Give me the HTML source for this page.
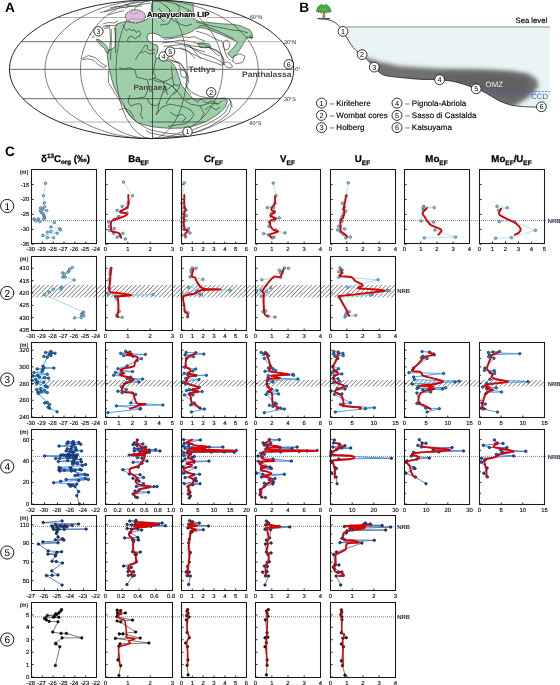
<!DOCTYPE html><html><head><meta charset="utf-8"><title>Figure</title><style>html,body{margin:0;padding:0;background:#fff;}svg{display:block;} text{text-rendering:geometricPrecision;}</style></head><body>
<svg width="560" height="685" viewBox="0 0 560 685">
<rect width="560" height="685" fill="#fff"/>
<g id="panelA">
<text x="5" y="11.8" font-size="13.6" font-weight="bold" font-family="'Liberation Sans', Arial, sans-serif">A</text>
<defs><clipPath id="ellc"><ellipse cx="151.6" cy="69.3" rx="142.2" ry="69.3"/></clipPath></defs>
<g clip-path="url(#ellc)">
<path d="M115.2,33.0 L114.5,28.0 L118.0,23.5 L125.0,21.5 L135.0,22.5 L143.0,21.0 L146.5,19.5 L149.5,16.5 L151.0,12.0 L151.5,5.0 L152.5,1.5 L157.0,1.2 L170.0,0.4 L185.0,0.7 L193.0,1.5 L193.6,19.0 L200.0,21.7 L208.0,22.4 L220.1,23.7 L233.5,24.4 L240.2,25.7 L246.2,28.4 L249.6,29.7 L251.6,32.4 L252.9,37.8 L246.9,37.1 L242.9,44.5 L238.8,51.2 L235.5,55.2 L232.1,57.9 L227.5,53.8 L231.5,49.8 L235.5,45.1 L237.5,41.8 L230.0,38.5 L220.0,34.0 L210.7,30.4 L205.4,28.4 L200.0,27.7 L195.0,29.0 L192.0,31.5 L186.0,34.0 L180.0,35.5 L172.0,37.5 L163.0,37.8 L158.0,34.5 L152.5,33.0 L148.0,34.0 L147.0,38.0 L149.0,42.0 L153.0,44.0 L157.0,45.0 L158.0,48.0 L157.0,53.0 L155.0,57.0 L160.0,59.0 L166.0,60.2 L170.5,61.5 L173.5,64.5 L175.8,68.0 L177.2,72.0 L178.6,75.7 L179.8,80.0 L181.0,84.0 L183.5,87.5 L186.0,91.0 L189.0,94.5 L193.5,99.2 L200.0,98.8 L210.0,98.6 L220.0,98.4 L226.0,99.0 L227.5,101.0 L225.0,107.5 L220.0,112.5 L215.0,116.3 L208.0,120.5 L200.0,124.0 L190.0,127.0 L182.5,128.0 L172.0,128.3 L165.0,128.0 L157.0,127.3 L150.0,126.3 L143.0,124.5 L137.5,122.5 L133.0,119.0 L129.5,115.5 L126.0,110.0 L123.5,104.0 L120.4,98.5 L117.1,93.1 L113.7,86.0 L111.5,78.4 L110.0,72.0 L108.6,66.0 L107.8,60.0 L107.1,53.0 L108.0,50.5 L112.0,49.0 L115.0,46.8 L115.2,40.0Z" fill="#9dd0a8" stroke="#1e2a22" stroke-width="0.6"/>
<path d="M96.4,39.4 L99.0,39.6 L103.0,42.5 L106.5,46.0 L108.5,50.0 L108.3,53.5 L106.0,52.0 L104.5,48.5 L101.0,45.5 L97.5,41.5Z" fill="#9dd0a8" stroke="#1e2a22" stroke-width="0.6"/>
<path d="M197.6,43.4 L203.0,42.8 L209.0,44.0 L211.0,46.5 L207.0,47.8 L200.0,47.5Z" fill="#9dd0a8" stroke="#1e2a22" stroke-width="0.6"/>
<path d="M82.4,58.8 L88.4,55.5 L95.1,57.5 L101.1,62.9 L106.5,66.2 L103.8,67.5 L98.4,64.9 L93.7,60.2 L87.7,58.8 L83.0,59.5Z" fill="#fff" stroke="#1e2a22" stroke-width="0.6"/>
<path d="M180.0,69.7 L184.0,70.5 L186.5,74.0 L185.5,77.8 L182.0,77.0 L180.5,73.5Z" fill="#fff" stroke="#1e2a22" stroke-width="0.6"/>
<path d="M108.4,70.0 L108.4,82.4 L112.4,89.1 L119.1,99.8 L125.8,109.2 L129.8,115.0 L136.0,121.0 L143.0,126.0 L150.0,129.9 L165.2,133.0 L180.4,134.5 L195.5,132.2 L210.7,126.1 L221.3,119.3 L228.9,113.2 L232.0,104.1 L229.0,99.0 L224.3,97.9 M146.0,130.5 L150.0,133.0 L165.2,136.0 L183.4,136.7 L190.0,135.5 M192.5,129.9 L207.7,123.8 L218.3,117.8 L225.9,111.7 L228.9,104.1 M229.0,99.0 L231.0,101.0 L230.0,104.0 L232.5,107.0 M166.0,58.0 L173.4,61.7 L180.1,63.0 L184.1,68.4 L186.8,75.1 L188.8,81.8 L186.8,85.8 L188.1,88.5 L192.1,92.5 L200.2,96.5 L208.2,97.9 L217.6,98.5 L224.3,97.9 M109.8,28.0 L110.5,40.0 L109.5,50.0 L107.5,52.0 M105.0,27.0 L109.0,25.5 L115.0,25.5 L118.0,23.5 M104.0,28.5 L110.0,27.5 M163.9,39.3 L172.9,38.4 L181.8,36.6 L188.9,37.5 L194.3,36.6 L197.9,38.4 L205.0,41.1 M162.1,42.9 L171.1,42.0 L180.0,40.2 L187.1,41.1 L192.5,42.0 L199.6,43.8 L205.0,44.2 M163.9,46.4 L172.9,45.5 L181.8,44.6 L187.1,46.4 L192.5,48.2 L197.9,50.0 L205.0,51.8 M188.9,44.6 L193.4,50.0 L197.0,54.5 L201.4,58.9 M172.9,48.2 L180.0,48.7 L186.3,50.0 L190.7,53.6 L195.2,58.9 M169.5,53.5 L174.8,60.2 L178.8,64.2 L181.5,70.0 M186.3,43.8 L195.0,50.0 L202.5,53.8 L210.0,56.3 L216.3,58.8 L221.3,61.9 L223.8,65.0 M180.0,47.5 L190.0,52.5 L200.0,57.5 L208.8,60.6 L216.3,63.1 L222.5,65.6 M175.0,42.5 L182.5,43.8 L190.0,45.6 L200.0,46.9 L208.8,47.5 L216.3,50.0 L221.3,53.8 L223.1,58.8 L223.8,65.0 M205.0,45.0 L212.5,48.8 L218.8,52.5 L222.5,56.3 L224.4,61.3 M208.8,47.5 L213.0,51.0 L217.0,54.5 L220.0,56.0 M223.8,62.5 L227.5,61.9 L231.3,64.4 L232.5,66.9 L230.0,68.1 L226.3,66.9 L224.4,65.0 L223.8,62.5 M233.8,56.3 L240.0,53.8 L245.0,56.3 L242.5,62.5 L236.3,63.8 L232.5,61.3 L233.8,56.3 M223.8,41.3 L227.5,40.0 L230.0,43.8 L228.8,48.8 L225.0,50.0 L223.1,46.3 L223.8,41.3 M221.0,40.0 L223.4,45.0 L225.0,52.0 L227.0,57.0 L230.0,60.0 M196.0,31.0 L206.0,34.0 L214.0,38.0 L220.0,41.0 M247.0,37.5 L252.0,38.5 L250.0,35.0 M198.0,27.0 L201.0,25.5 L205.0,26.0 M100.0,13.0 L112.0,8.5 L125.0,5.0 L138.0,2.5 L150.0,1.0 M104.0,12.0 L115.0,9.0 L128.0,6.5 L140.0,4.5 L151.0,3.0 M108.0,15.0 L118.0,12.0 L124.0,10.5 M103.0,24.0 L108.0,22.5 L114.0,23.0 L118.0,21.0 M102.5,27.0 L106.0,25.5 L110.0,26.5 M122.9,24.5 L124.2,28.0 L126.4,30.7 L129.1,28.9 L131.8,30.7 L134.5,29.8 L136.3,32.5 L138.9,30.7 L140.7,33.4 L139.8,36.1 L137.1,37.0 L135.4,38.8 L131.8,36.1 L129.1,37.0 L127.3,40.5 L129.1,42.3 M135.4,60.0 L138.9,53.9 L142.5,49.5 L145.2,45.0 L147.9,45.9 L147.0,48.6 L149.6,50.4 L155.0,49.5 M140.7,53.0 L145.2,51.3 L149.6,53.9 L155.0,53.0 M111.3,29.0 L111.3,40.0 L111.0,50.0 L110.4,60.0 M115.7,28.0 L115.7,40.0 L115.5,53.0 M170.5,59.5 L174.1,61.3 L178.6,62.1 L181.3,64.8 L183.9,68.4 L185.7,71.1 L187.5,73.8 L188.4,77.3 L187.5,80.9 L185.7,83.6 L186.6,87.1 L188.4,90.7 L191.1,94.3 M156.3,57.7 L154.5,65.7 L153.6,72.9 L155.4,76.4 L153.6,79.1 M171.4,65.7 L171.9,71.1 L172.3,76.4 L173.2,81.8 L174.1,85.4 M153.6,80.0 L158.9,81.8 L163.4,81.8 L167.9,80.0 L172.3,77.3 M163.4,81.8 L164.3,86.3 L166.1,90.7 L167.9,95.0 M174.1,85.4 L170.5,87.1 L167.0,89.8 L163.4,92.5 M173.2,84.5 L176.8,85.4 L180.4,84.5 M179.5,85.4 L178.6,88.9 L175.9,92.5 L173.2,95.0 M119.0,110.0 L124.0,108.0 L130.0,111.0 L134.0,117.0 M130.0,95.0 L128.0,102.0 L131.0,106.0 L136.0,104.0 L140.0,103.8 M147.0,98.0 L150.0,104.0 L156.0,106.0 L160.0,103.0 M186.0,100.0 L192.0,98.0 L197.0,102.0 L201.0,99.0 L206.0,103.0 L212.0,101.0 L218.0,104.0 L222.0,101.0 M205.0,110.0 L210.0,106.0 L216.0,110.0 L220.0,107.0 M170.0,112.0 L176.0,116.0 L182.0,114.0 L186.0,118.0 L182.0,122.0 M176.0,4.0 L180.0,8.0 L178.0,12.0 L184.0,14.0 L190.0,10.0 M158.0,8.0 L162.0,12.0 L160.0,18.0 L164.0,22.0 M196.0,22.0 L204.0,24.0 L212.0,26.0 L222.0,28.0 L232.0,30.0 L242.0,31.0 L248.0,33.0 M204.0,25.0 L210.0,28.0 L218.0,31.0 L226.0,35.0 L234.0,39.0 M119.1,67.7 L124.5,69.0 L129.8,67.7 L135.2,70.4 L136.5,77.1 L141.9,78.4 L147.2,79.7 L148.6,85.1 L147.2,91.8 L144.6,97.1 L135.2,98.5 L127.1,98.5 M148.6,79.7 L155.3,78.4 L162.0,81.1 L167.3,83.8 L172.0,86.0 L176.0,90.0 M164.6,86.4 L162.0,94.5 L159.3,102.5 L158.0,110.5 L156.0,114.7 M140.5,103.8 L141.9,109.2 L140.5,115.0 L143.0,119.0 M156.0,114.7 L162.1,107.1 L169.7,104.1 L177.3,105.6 L184.9,107.1 L191.0,110.2 L194.0,114.7 L191.0,119.3 L184.9,123.8 L176.0,125.0 L168.0,126.5 M172.0,86.0 L178.0,92.0 L183.0,99.0 L190.0,104.0 L200.0,106.0 L210.0,103.0 L218.0,104.0 M176.0,90.0 L170.0,97.0 L166.0,104.0 M200.0,106.0 L204.0,113.0 L201.0,119.0 M160.0,25.0 L168.0,24.0 L172.0,18.0 L178.0,14.0 L186.0,16.0 L192.0,12.0 M165.0,5.0 L170.0,10.0 L168.0,16.0 L173.0,20.0 L180.0,24.0 L186.0,26.0 L192.0,24.0 M125.0,5.0 L133.0,6.5 L142.0,6.0 M110.0,8.0 L118.0,6.0 L126.0,8.0 L130.0,6.0" fill="none" stroke="#1e2a22" stroke-width="0.6" stroke-linejoin="round"/>
<ellipse cx="95.5" cy="32.6" rx="1.3" ry="0.9" fill="#fff" stroke="#333" stroke-width="0.45"/>
<ellipse cx="93.3" cy="36.8" rx="1.0" ry="0.8" fill="#fff" stroke="#333" stroke-width="0.45"/>
<ellipse cx="90.5" cy="34.4" rx="0.8" ry="0.6" fill="#fff" stroke="#333" stroke-width="0.45"/>
</g>
<path d="M9.4,69.3H293.8 M22.8,98.7H280.4 M21.2,41.7H175 M150,122H205" stroke="#3a3a3a" stroke-width="0.75" fill="none"/>
<path d="M57.1,17.5H246.1 M175,41.7H282.0 M59.3,122H150 M205,122H243.9" stroke="#999" stroke-width="0.75" fill="none"/>
<ellipse cx="151.6" cy="69.3" rx="35.55" ry="69.3" fill="none" stroke="#3a3a3a" stroke-width="0.65"/>
<ellipse cx="151.6" cy="69.3" rx="71.10" ry="69.3" fill="none" stroke="#3a3a3a" stroke-width="0.65"/>
<ellipse cx="151.6" cy="69.3" rx="106.65" ry="69.3" fill="none" stroke="#3a3a3a" stroke-width="0.65"/>
<line x1="152.5" y1="0" x2="152.5" y2="138.6" stroke="#2a2a2a" stroke-width="0.75"/>
<ellipse cx="151.6" cy="69.3" rx="142.2" ry="69.3" fill="none" stroke="#1a1a1a" stroke-width="0.95"/>
<ellipse cx="135.4" cy="16.4" rx="10" ry="6.6" fill="#dbbbd9" stroke="#222" stroke-width="0.85" stroke-dasharray="1.8,0.9"/>
<path d="M127,21 Q131,17 136,19 Q140,21 144,18 M129,12 Q133,15 138,13" stroke="#8a6a88" stroke-width="0.4" fill="none"/>
<g font-family="'Liberation Sans', Arial, sans-serif" font-size="5.4" fill="#111"><text x="250" y="19.4">60°N</text><text x="284" y="43.6">30°N</text><text x="295.3" y="71.3">0°</text><text x="284" y="100.7">30°S</text><text x="249.6" y="125">60°S</text></g>
<g font-family="'Liberation Sans', Arial, sans-serif" font-weight="bold" font-size="8" fill="#4a4549">
<text x="188.6" y="72.2" textLength="26.8" lengthAdjust="spacingAndGlyphs">Tethys</text><text x="242.1" y="77.2" textLength="49.3" lengthAdjust="spacingAndGlyphs">Panthalassa</text></g>
<text x="133.4" y="89.9" textLength="33.5" lengthAdjust="spacingAndGlyphs" font-family="'Liberation Sans', Arial, sans-serif" font-weight="bold" font-size="7.8" fill="#4a4549">Pangaea</text>
<text x="146.9" y="17.2" textLength="62.4" lengthAdjust="spacingAndGlyphs" font-family="'Liberation Sans', Arial, sans-serif" font-weight="bold" font-size="7.4" fill="#fff" stroke="#fff" stroke-width="1.8" stroke-linejoin="round">Angayucham LIP</text>
<text x="146.9" y="17.2" textLength="62.4" lengthAdjust="spacingAndGlyphs" font-family="'Liberation Sans', Arial, sans-serif" font-weight="bold" font-size="7.4" fill="#000" stroke="#000" stroke-width="0.22">Angayucham LIP</text>
<circle cx="187.5" cy="131.6" r="4.7" fill="#fff" stroke="#111" stroke-width="0.85"/>
<text x="187.5" y="134.1" font-size="7" text-anchor="middle" font-family="'Liberation Sans', Arial, sans-serif">1</text>
<circle cx="211.2" cy="92.3" r="4.7" fill="#fff" stroke="#111" stroke-width="0.85"/>
<text x="211.2" y="94.8" font-size="7" text-anchor="middle" font-family="'Liberation Sans', Arial, sans-serif">2</text>
<circle cx="98.4" cy="31.3" r="4.7" fill="#fff" stroke="#111" stroke-width="0.85"/>
<text x="98.4" y="33.8" font-size="7" text-anchor="middle" font-family="'Liberation Sans', Arial, sans-serif">3</text>
<circle cx="163.6" cy="56.4" r="4.7" fill="#fff" stroke="#111" stroke-width="0.85"/>
<text x="163.6" y="58.9" font-size="7" text-anchor="middle" font-family="'Liberation Sans', Arial, sans-serif">4</text>
<circle cx="170.1" cy="51.6" r="4.7" fill="#fff" stroke="#111" stroke-width="0.85"/>
<text x="170.1" y="54.1" font-size="7" text-anchor="middle" font-family="'Liberation Sans', Arial, sans-serif">5</text>
<circle cx="288.8" cy="64.3" r="4.7" fill="#fff" stroke="#111" stroke-width="0.85"/>
<text x="288.8" y="66.8" font-size="7" text-anchor="middle" font-family="'Liberation Sans', Arial, sans-serif">6</text>
</g>
<g id="panelB">
<text x="299.3" y="11.8" font-size="13.6" font-weight="bold" font-family="'Liberation Sans', Arial, sans-serif">B</text>
<defs><clipPath id="wclip"><path d="M346.5,27.0 C380.4,27.0 515.9,13.6 549.8,27.0 C583.7,40.4 551.2,94.2 549.8,107.6 C548.4,121.0 543.9,107.7 541.4,107.6 C538.9,107.5 538.2,107.2 535.0,107.0 C531.8,106.8 525.8,106.8 522.0,106.5 C518.2,106.2 515.2,106.0 512.0,105.3 C508.8,104.6 505.8,103.6 503.0,102.5 C500.2,101.4 498.0,100.2 495.0,98.5 C492.0,96.8 488.1,94.1 485.0,92.5 C481.9,90.9 480.7,90.5 476.2,88.8 C471.7,87.1 464.1,84.0 458.0,82.5 C451.9,81.0 445.9,80.2 439.6,79.7 C433.3,79.2 426.6,79.7 420.0,79.3 C413.4,78.9 405.8,78.1 400.0,77.5 C394.2,76.9 388.5,76.4 385.0,75.5 C381.5,74.6 380.8,73.4 379.0,72.0 C377.2,70.6 376.1,69.0 374.3,67.1 C372.5,65.2 370.0,62.6 368.0,60.5 C366.0,58.4 364.1,56.3 362.1,54.6 C360.1,52.9 357.9,52.2 356.0,50.5 C354.1,48.8 352.5,46.6 351.0,44.5 C349.5,42.4 348.0,39.7 347.0,38.0 C346.0,36.3 345.3,35.1 345.0,34.5Z"/></clipPath><filter id="blur" x="-20%" y="-50%" width="140%" height="200%"><feGaussianBlur stdDeviation="2.3"/></filter><filter id="blur2" x="-20%" y="-50%" width="140%" height="200%"><feGaussianBlur stdDeviation="3.2"/></filter></defs>
<path d="M346.5,27.0 L549.8,27.0 L549.8,107.6 L541.4,107.6 L535.0,107.0 L522.0,106.5 L512.0,105.3 L503.0,102.5 L495.0,98.5 L485.0,92.5 L476.2,88.8 L458.0,82.5 L439.6,79.7 L420.0,79.3 L400.0,77.5 L385.0,75.5 L379.0,72.0 L374.3,67.1 L368.0,60.5 L362.1,54.6 L356.0,50.5 L351.0,44.5 L347.0,38.0 L345.0,34.5Z" fill="#e9f4f7"/>
<g clip-path="url(#wclip)"><path d="M362.0,56.5 L380.0,62.0 L400.0,66.2 L440.0,68.8 L480.0,69.5 L510.0,71.0 L528.0,73.5 L537.0,79.5 L538.5,86.0 L533.0,94.0 L522.0,101.5 L512.0,108.0 L490.0,104.0 L460.0,95.0 L430.0,88.0 L400.0,85.0 L370.0,80.0 L358.0,66.0Z" fill="#6f6f6f" filter="url(#blur)"/><path d="M440.0,74.0 L470.0,73.0 L495.0,73.0 L515.0,75.0 L528.0,79.5 L530.0,87.5 L522.0,95.5 L510.0,99.0 L495.0,95.0 L478.0,89.0 L455.0,82.0 L440.0,80.0Z" fill="#616161" filter="url(#blur2)"/></g>
<line x1="346.5" y1="27" x2="549.8" y2="27" stroke="#8a8a8a" stroke-width="1"/>
<path d="M318.0,18.6 C320.0,18.9 326.8,19.2 330.0,20.2 C333.2,21.2 335.3,22.6 337.5,24.5 C339.7,26.4 341.4,29.1 343.0,31.4 C344.6,33.6 345.7,35.8 347.0,38.0 C348.3,40.2 349.5,42.4 351.0,44.5 C352.5,46.6 354.1,48.8 356.0,50.5 C357.9,52.2 360.1,52.9 362.1,54.6 C364.1,56.3 366.0,58.4 368.0,60.5 C370.0,62.6 372.5,65.2 374.3,67.1 C376.1,69.0 377.2,70.6 379.0,72.0 C380.8,73.4 381.5,74.6 385.0,75.5 C388.5,76.4 394.2,76.9 400.0,77.5 C405.8,78.1 413.4,78.9 420.0,79.3 C426.6,79.7 433.3,79.2 439.6,79.7 C445.9,80.2 451.9,81.0 458.0,82.5 C464.1,84.0 471.7,87.1 476.2,88.8 C480.7,90.5 481.9,90.9 485.0,92.5 C488.1,94.1 492.0,96.8 495.0,98.5 C498.0,100.2 500.2,101.4 503.0,102.5 C505.8,103.6 508.8,104.6 512.0,105.3 C515.2,106.0 518.2,106.2 522.0,106.5 C525.8,106.8 531.8,107.0 535.0,107.0 C538.2,107.0 540.3,106.8 541.4,106.8" fill="none" stroke="#222" stroke-width="0.8"/>
<line x1="482" y1="91.6" x2="550" y2="91.6" stroke="#3b63d0" stroke-width="0.8" stroke-dasharray="2.2,1.3"/>
<text x="531.2" y="99.4" font-size="7.75" fill="#3b63d0" font-family="'Liberation Sans', Arial, sans-serif">CCD</text>
<text x="485.6" y="86.8" font-size="7.8" fill="#f4f4f4" font-family="'Liberation Sans', Arial, sans-serif">OMZ</text>
<text x="515.5" y="23" font-size="7.7" fill="#000" stroke="#000" stroke-width="0.15" font-family="'Liberation Sans', Arial, sans-serif">Sea level</text>
<circle cx="343.0" cy="31.4" r="4.9" fill="#fff" stroke="#111" stroke-width="0.85"/>
<text x="343.0" y="34.0" font-size="7.2" text-anchor="middle" font-family="'Liberation Sans', Arial, sans-serif">1</text>
<circle cx="362.1" cy="54.6" r="4.9" fill="#fff" stroke="#111" stroke-width="0.85"/>
<text x="362.1" y="57.2" font-size="7.2" text-anchor="middle" font-family="'Liberation Sans', Arial, sans-serif">2</text>
<circle cx="374.3" cy="67.1" r="4.9" fill="#fff" stroke="#111" stroke-width="0.85"/>
<text x="374.3" y="69.7" font-size="7.2" text-anchor="middle" font-family="'Liberation Sans', Arial, sans-serif">3</text>
<circle cx="439.6" cy="79.7" r="4.9" fill="#fff" stroke="#111" stroke-width="0.85"/>
<text x="439.6" y="82.3" font-size="7.2" text-anchor="middle" font-family="'Liberation Sans', Arial, sans-serif">4</text>
<circle cx="476.2" cy="88.8" r="4.9" fill="#fff" stroke="#111" stroke-width="0.85"/>
<text x="476.2" y="91.4" font-size="7.2" text-anchor="middle" font-family="'Liberation Sans', Arial, sans-serif">5</text>
<circle cx="541.4" cy="106.8" r="4.9" fill="#fff" stroke="#111" stroke-width="0.85"/>
<text x="541.4" y="109.4" font-size="7.2" text-anchor="middle" font-family="'Liberation Sans', Arial, sans-serif">6</text>
<path d="M317.5,18.6 L330,18.6" stroke="#444" stroke-width="1.1" fill="none"/>
<path d="M322.6,18.6 L322.9,11.5 L324.9,11.5 L325.1,18.6 Z" fill="#c8965a" stroke="#6a4a24" stroke-width="0.35"/>
<path d="M316.4,12 Q316.8,6.5 321,4.5 L323.7,5.6 L326.4,4.5 Q330.6,6.5 331.2,12 L330,10.4 L329,12.8 L327.8,10.8 L326.6,13.2 L325.3,11.2 L323.8,13.2 L322.4,11.2 L321,13.2 L319.8,10.8 L318.7,12.8 L317.6,10.4 Z" fill="#4fb548" stroke="#1d4d1a" stroke-width="0.55" stroke-linejoin="round"/>
<path d="M318.5,9 L320.5,7.5 M321.5,8.5 L322.5,6.5 M326,8.5 L325,6.5 M329,9 L327,7.5" stroke="#2e7a2a" stroke-width="0.5"/>
<circle cx="321.5" cy="103.1" r="5" fill="#fff" stroke="#111" stroke-width="0.85"/>
<text x="321.5" y="105.7" font-size="7.4" text-anchor="middle" font-family="'Liberation Sans', Arial, sans-serif">1</text>
<text x="329.7" y="105.9" font-size="8" font-family="'Liberation Sans', Arial, sans-serif" fill="#000" stroke="#000" stroke-width="0.15">– Kiritehere</text>
<circle cx="321.5" cy="115.4" r="5" fill="#fff" stroke="#111" stroke-width="0.85"/>
<text x="321.5" y="118.0" font-size="7.4" text-anchor="middle" font-family="'Liberation Sans', Arial, sans-serif">2</text>
<text x="329.7" y="118.2" font-size="8" font-family="'Liberation Sans', Arial, sans-serif" fill="#000" stroke="#000" stroke-width="0.15">– Wombat cores</text>
<circle cx="321.5" cy="127.6" r="5" fill="#fff" stroke="#111" stroke-width="0.85"/>
<text x="321.5" y="130.2" font-size="7.4" text-anchor="middle" font-family="'Liberation Sans', Arial, sans-serif">3</text>
<text x="329.7" y="130.4" font-size="8" font-family="'Liberation Sans', Arial, sans-serif" fill="#000" stroke="#000" stroke-width="0.15">– Holberg</text>
<circle cx="397.0" cy="103.1" r="5" fill="#fff" stroke="#111" stroke-width="0.85"/>
<text x="397.0" y="105.7" font-size="7.4" text-anchor="middle" font-family="'Liberation Sans', Arial, sans-serif">4</text>
<text x="405.2" y="105.9" font-size="8" font-family="'Liberation Sans', Arial, sans-serif" fill="#000" stroke="#000" stroke-width="0.15">– Pignola-Abriola</text>
<circle cx="397.0" cy="115.4" r="5" fill="#fff" stroke="#111" stroke-width="0.85"/>
<text x="397.0" y="118.0" font-size="7.4" text-anchor="middle" font-family="'Liberation Sans', Arial, sans-serif">5</text>
<text x="405.2" y="118.2" font-size="8" font-family="'Liberation Sans', Arial, sans-serif" fill="#000" stroke="#000" stroke-width="0.15">– Sasso di Castalda</text>
<circle cx="397.0" cy="127.6" r="5" fill="#fff" stroke="#111" stroke-width="0.85"/>
<text x="397.0" y="130.2" font-size="7.4" text-anchor="middle" font-family="'Liberation Sans', Arial, sans-serif">6</text>
<text x="405.2" y="130.4" font-size="8" font-family="'Liberation Sans', Arial, sans-serif" fill="#000" stroke="#000" stroke-width="0.15">– Katsuyama</text>
</g>
<g id="panelC">
<text x="5" y="155.8" font-size="13.6" font-weight="bold" font-family="'Liberation Sans', Arial, sans-serif">C</text>
<g font-family="'Liberation Sans', Arial, sans-serif" font-weight="bold" font-size="9.7" text-anchor="middle" fill="#000" stroke="#000" stroke-width="0.25">
<text x="65.5" y="161.8">δ<tspan font-size="6.3" dy="-3.4">13</tspan><tspan dy="3.4">C</tspan><tspan font-size="6.3" dy="2.6">org</tspan><tspan dy="-2.6"> (‰)</tspan></text>
<text x="138.5" y="161.8">Ba<tspan font-size="6.5" dy="2.9">EF</tspan></text>
<text x="213.5" y="161.8">Cr<tspan font-size="6.5" dy="2.9">EF</tspan></text>
<text x="287.5" y="161.8">V<tspan font-size="6.5" dy="2.9">EF</tspan></text>
<text x="362.5" y="161.8">U<tspan font-size="6.5" dy="2.9">EF</tspan></text>
<text x="436.5" y="161.8">Mo<tspan font-size="6.5" dy="2.9">EF</tspan></text>
<text x="511.5" y="161.8">Mo<tspan font-size="6.5" dy="2.9">EF</tspan><tspan dy="-2.9">/U</tspan><tspan font-size="6.5" dy="2.9">EF</tspan></text>
</g>
<defs><pattern id="hatch" patternUnits="userSpaceOnUse" width="3.1" height="3.1" patternTransform="rotate(45)"><line x1="0" y1="0" x2="0" y2="3.1" stroke="#2a2a2a" stroke-width="0.95"/></pattern></defs>
<circle cx="7.2" cy="206.0" r="6.6" fill="#fff" stroke="#111" stroke-width="0.95"/>
<text x="7.2" y="209.6" font-size="10" text-anchor="middle" font-family="'Liberation Sans', Arial, sans-serif">1</text>
<line x1="31" y1="220.6" x2="547.0" y2="220.6" stroke="#555" stroke-width="0.7" stroke-dasharray="1,1"/>
<text x="547.8" y="223.4" font-size="5.9" font-weight="bold" fill="#2b3350" font-family="'Liberation Sans', Arial, sans-serif">NRB</text>
<g>
<path d="M45.5,183.2 L43.4,195.7 L44.3,202.9 L44.6,206.8 L40.7,207.9 L42.9,209.1 L46.8,210.5 L40.2,210.9 L41.4,212.7 L42.9,213.6 L43.8,215.4 L44.3,216.8 L44.6,218.0 L43.8,218.9 L38.4,218.9 L33.9,218.9 L35.7,220.7 L39.6,221.6 L54.5,222.5 L50.9,227.0 L59.8,228.8 L60.4,230.0 L50.9,231.4 L47.3,232.3 L57.1,233.2 L42.9,235.4 L53.6,237.7 L47.3,237.7" fill="none" stroke="#9fd6ee" stroke-width="0.70" stroke-linejoin="round"/>
<g fill="#84cbe8" stroke="#22374a" stroke-width="0.50"><circle cx="45.5" cy="183.2" r="1.30"/><circle cx="43.4" cy="195.7" r="1.30"/><circle cx="44.3" cy="202.9" r="1.30"/><circle cx="44.6" cy="206.8" r="1.30"/><circle cx="40.7" cy="207.9" r="1.30"/><circle cx="42.9" cy="209.1" r="1.30"/><circle cx="46.8" cy="210.5" r="1.30"/><circle cx="40.2" cy="210.9" r="1.30"/><circle cx="41.4" cy="212.7" r="1.30"/><circle cx="42.9" cy="213.6" r="1.30"/><circle cx="43.8" cy="215.4" r="1.30"/><circle cx="44.3" cy="216.8" r="1.30"/><circle cx="44.6" cy="218.0" r="1.30"/><circle cx="43.8" cy="218.9" r="1.30"/><circle cx="38.4" cy="218.9" r="1.30"/><circle cx="33.9" cy="218.9" r="1.30"/><circle cx="35.7" cy="220.7" r="1.30"/><circle cx="39.6" cy="221.6" r="1.30"/><circle cx="54.5" cy="222.5" r="1.30"/><circle cx="50.9" cy="227.0" r="1.30"/><circle cx="59.8" cy="228.8" r="1.30"/><circle cx="60.4" cy="230.0" r="1.30"/><circle cx="50.9" cy="231.4" r="1.30"/><circle cx="47.3" cy="232.3" r="1.30"/><circle cx="57.1" cy="233.2" r="1.30"/><circle cx="42.9" cy="235.4" r="1.30"/><circle cx="53.6" cy="237.7" r="1.30"/><circle cx="47.3" cy="237.7" r="1.30"/></g>
</g>
<rect x="31.5" y="169.5" width="65" height="74" fill="none" stroke="#1a1a1a" stroke-width="1.05"/>
<path d="M31.5,184.6h2.1 M31.5,199.5h2.1 M31.5,214.4h2.1 M31.5,229.4h2.1 M31.5,244.3h2.1 M42.3,243.5v-2.0 M53.2,243.5v-2.0 M64.0,243.5v-2.0 M74.8,243.5v-2.0 M85.7,243.5v-2.0" stroke="#1a1a1a" stroke-width="0.9" fill="none"/>
<g font-size="5.9" text-anchor="middle" fill="#000" stroke="#000" stroke-width="0.12" font-family="'Liberation Sans', Arial, sans-serif"><text x="30.7" y="251.2">-30</text><text x="41.5" y="251.2">-29</text><text x="52.4" y="251.2">-28</text><text x="63.2" y="251.2">-27</text><text x="74.0" y="251.2">-26</text><text x="84.9" y="251.2">-25</text><text x="95.7" y="251.2">-24</text></g>
<g>
<path d="M123.6,182.1 L132.6,195.7 L128.3,202.9 L122.1,206.4 L127.1,207.9 L117.1,210.4 L120.7,212.1 L127.1,212.9 L118.6,216.4 L117.9,217.9 L114.3,219.3 L108.6,222.1 L109.3,226.4 L114.3,228.6 L109.3,230.4 L113.6,233.3 L122.9,233.3 L120.0,235.7 L117.1,237.1 L125.4,238.9" fill="none" stroke="#9fd6ee" stroke-width="0.70" stroke-linejoin="round"/>
<g fill="#84cbe8" stroke="#22374a" stroke-width="0.50"><circle cx="123.6" cy="182.1" r="1.30"/><circle cx="132.6" cy="195.7" r="1.30"/><circle cx="128.3" cy="202.9" r="1.30"/><circle cx="122.1" cy="206.4" r="1.30"/><circle cx="127.1" cy="207.9" r="1.30"/><circle cx="117.1" cy="210.4" r="1.30"/><circle cx="120.7" cy="212.1" r="1.30"/><circle cx="127.1" cy="212.9" r="1.30"/><circle cx="118.6" cy="216.4" r="1.30"/><circle cx="117.9" cy="217.9" r="1.30"/><circle cx="114.3" cy="219.3" r="1.30"/><circle cx="108.6" cy="222.1" r="1.30"/><circle cx="109.3" cy="226.4" r="1.30"/><circle cx="114.3" cy="228.6" r="1.30"/><circle cx="109.3" cy="230.4" r="1.30"/><circle cx="113.6" cy="233.3" r="1.30"/><circle cx="122.9" cy="233.3" r="1.30"/><circle cx="120.0" cy="235.7" r="1.30"/><circle cx="117.1" cy="237.1" r="1.30"/><circle cx="125.4" cy="238.9" r="1.30"/></g>
<path d="M128.3,195.0 C128.2,196.9 129.1,203.8 127.9,206.4 C126.8,209.0 122.6,209.8 121.4,210.7 C120.2,211.6 119.8,211.5 120.7,212.1 C121.7,212.7 127.2,213.3 127.1,214.3 C127.0,215.3 122.2,217.0 120.0,217.9 C117.8,218.8 115.1,219.3 113.6,220.0 C112.1,220.7 111.5,220.8 111.1,222.1 C110.7,223.4 110.9,226.3 111.1,227.9 C111.3,229.5 110.8,230.6 112.1,231.4 C113.3,232.2 117.2,232.1 118.6,232.9 C120.0,233.7 120.3,235.6 120.7,236.4 C121.1,237.2 121.0,237.4 121.1,237.6" fill="none" stroke="#d80000" stroke-width="1.9" stroke-linejoin="round" stroke-linecap="round"/>
</g>
<rect x="105.5" y="169.5" width="67" height="74" fill="none" stroke="#1a1a1a" stroke-width="1.05"/>
<path d="M105.5,184.6h2.1 M105.5,199.5h2.1 M105.5,214.4h2.1 M105.5,229.4h2.1 M105.5,244.3h2.1 M127.8,243.5v-2.0 M150.2,243.5v-2.0" stroke="#1a1a1a" stroke-width="0.9" fill="none"/>
<g font-size="5.9" text-anchor="middle" fill="#000" stroke="#000" stroke-width="0.12" font-family="'Liberation Sans', Arial, sans-serif"><text x="105.5" y="251.2">0</text><text x="127.8" y="251.2">1</text><text x="150.2" y="251.2">2</text><text x="172.5" y="251.2">3</text></g>
<g>
<path d="M184.3,182.9 L181.9,203.3 L182.9,207.9 L186.1,210.0 L182.9,212.1 L186.4,215.7 L182.1,217.9 L185.3,220.4 L181.9,222.1 L182.1,226.4 L188.6,228.6 L184.3,229.6 L190.0,232.9 L182.1,235.0 L185.7,237.1" fill="none" stroke="#9fd6ee" stroke-width="0.70" stroke-linejoin="round"/>
<g fill="#84cbe8" stroke="#22374a" stroke-width="0.50"><circle cx="184.3" cy="182.9" r="1.30"/><circle cx="181.9" cy="203.3" r="1.30"/><circle cx="182.9" cy="207.9" r="1.30"/><circle cx="186.1" cy="210.0" r="1.30"/><circle cx="182.9" cy="212.1" r="1.30"/><circle cx="186.4" cy="215.7" r="1.30"/><circle cx="182.1" cy="217.9" r="1.30"/><circle cx="185.3" cy="220.4" r="1.30"/><circle cx="181.9" cy="222.1" r="1.30"/><circle cx="182.1" cy="226.4" r="1.30"/><circle cx="188.6" cy="228.6" r="1.30"/><circle cx="184.3" cy="229.6" r="1.30"/><circle cx="190.0" cy="232.9" r="1.30"/><circle cx="182.1" cy="235.0" r="1.30"/><circle cx="185.7" cy="237.1" r="1.30"/></g>
<path d="M184.3,195.0 C184.3,196.7 184.1,202.6 184.3,205.0 C184.5,207.4 185.3,207.9 185.3,209.3 C185.3,210.7 184.5,211.9 184.3,213.6 C184.1,215.3 184.0,217.4 183.9,219.3 C183.8,221.2 183.7,223.3 183.9,225.0 C184.1,226.7 184.3,228.4 185.0,229.3 C185.7,230.2 188.0,230.0 188.1,230.7 C188.2,231.4 185.8,232.8 185.3,233.6 C184.8,234.4 185.3,235.3 185.3,235.7" fill="none" stroke="#d80000" stroke-width="1.9" stroke-linejoin="round" stroke-linecap="round"/>
</g>
<rect x="181.5" y="169.5" width="65" height="74" fill="none" stroke="#1a1a1a" stroke-width="1.05"/>
<path d="M181.5,184.6h2.1 M181.5,199.5h2.1 M181.5,214.4h2.1 M181.5,229.4h2.1 M181.5,244.3h2.1 M192.3,243.5v-2.0 M203.2,243.5v-2.0 M214.0,243.5v-2.0 M224.8,243.5v-2.0 M235.7,243.5v-2.0" stroke="#1a1a1a" stroke-width="0.9" fill="none"/>
<g font-size="5.9" text-anchor="middle" fill="#000" stroke="#000" stroke-width="0.12" font-family="'Liberation Sans', Arial, sans-serif"><text x="181.5" y="251.2">0</text><text x="192.3" y="251.2">1</text><text x="203.2" y="251.2">2</text><text x="214.0" y="251.2">3</text><text x="224.8" y="251.2">4</text><text x="235.7" y="251.2">5</text><text x="246.5" y="251.2">6</text></g>
<g>
<path d="M273.3,183.1 L276.0,195.7 L275.0,203.3 L267.4,207.6 L273.6,207.6 L274.3,211.4 L271.4,213.6 L271.1,215.7 L279.3,217.9 L273.6,220.4 L269.3,222.1 L268.9,226.4 L275.7,230.0 L285.0,232.9 L263.6,233.6 L268.6,235.0 L274.0,237.1 L272.1,237.9" fill="none" stroke="#9fd6ee" stroke-width="0.70" stroke-linejoin="round"/>
<g fill="#84cbe8" stroke="#22374a" stroke-width="0.50"><circle cx="273.3" cy="183.1" r="1.30"/><circle cx="276.0" cy="195.7" r="1.30"/><circle cx="275.0" cy="203.3" r="1.30"/><circle cx="267.4" cy="207.6" r="1.30"/><circle cx="273.6" cy="207.6" r="1.30"/><circle cx="274.3" cy="211.4" r="1.30"/><circle cx="271.4" cy="213.6" r="1.30"/><circle cx="271.1" cy="215.7" r="1.30"/><circle cx="279.3" cy="217.9" r="1.30"/><circle cx="273.6" cy="220.4" r="1.30"/><circle cx="269.3" cy="222.1" r="1.30"/><circle cx="268.9" cy="226.4" r="1.30"/><circle cx="275.7" cy="230.0" r="1.30"/><circle cx="285.0" cy="232.9" r="1.30"/><circle cx="263.6" cy="233.6" r="1.30"/><circle cx="268.6" cy="235.0" r="1.30"/><circle cx="274.0" cy="237.1" r="1.30"/><circle cx="272.1" cy="237.9" r="1.30"/></g>
<path d="M275.0,196.4 C275.0,197.5 275.4,201.2 275.0,202.9 C274.6,204.6 273.5,205.6 272.9,206.4 C272.3,207.2 271.5,207.2 271.4,207.9 C271.3,208.6 271.5,210.0 272.1,210.7 C272.7,211.4 275.1,211.5 275.0,212.1 C274.9,212.7 272.1,213.6 271.4,214.3 C270.7,215.0 269.9,215.7 270.7,216.4 C271.5,217.1 276.3,218.0 276.4,218.6 C276.5,219.2 272.5,219.4 271.4,220.0 C270.3,220.6 270.1,221.0 270.0,222.1 C269.9,223.2 270.1,225.1 270.7,226.4 C271.3,227.7 272.3,229.2 273.6,230.0 C274.9,230.8 278.4,230.8 278.3,231.4 C278.2,232.0 274.4,232.7 272.9,233.3 C271.4,233.9 269.6,234.4 269.3,235.0 C269.1,235.6 271.0,236.8 271.4,237.1" fill="none" stroke="#d80000" stroke-width="1.9" stroke-linejoin="round" stroke-linecap="round"/>
</g>
<rect x="255.5" y="169.5" width="65" height="74" fill="none" stroke="#1a1a1a" stroke-width="1.05"/>
<path d="M255.5,184.6h2.1 M255.5,199.5h2.1 M255.5,214.4h2.1 M255.5,229.4h2.1 M255.5,244.3h2.1 M271.8,243.5v-2.0 M288.0,243.5v-2.0 M304.2,243.5v-2.0" stroke="#1a1a1a" stroke-width="0.9" fill="none"/>
<g font-size="5.9" text-anchor="middle" fill="#000" stroke="#000" stroke-width="0.12" font-family="'Liberation Sans', Arial, sans-serif"><text x="255.5" y="251.2">0</text><text x="271.8" y="251.2">1</text><text x="288.0" y="251.2">2</text><text x="304.2" y="251.2">3</text><text x="320.5" y="251.2">4</text></g>
<g>
<path d="M348.3,182.9 L346.4,195.7 L342.4,203.3 L344.3,207.1 L343.3,209.3 L345.7,211.0 L343.6,213.6 L342.1,216.4 L341.0,219.3 L341.9,221.4 L338.6,226.4 L344.7,229.0 L337.6,230.0 L340.7,232.1 L343.3,234.3 L350.4,237.1 L345.7,237.9" fill="none" stroke="#9fd6ee" stroke-width="0.70" stroke-linejoin="round"/>
<g fill="#84cbe8" stroke="#22374a" stroke-width="0.50"><circle cx="348.3" cy="182.9" r="1.30"/><circle cx="346.4" cy="195.7" r="1.30"/><circle cx="342.4" cy="203.3" r="1.30"/><circle cx="344.3" cy="207.1" r="1.30"/><circle cx="343.3" cy="209.3" r="1.30"/><circle cx="345.7" cy="211.0" r="1.30"/><circle cx="343.6" cy="213.6" r="1.30"/><circle cx="342.1" cy="216.4" r="1.30"/><circle cx="341.0" cy="219.3" r="1.30"/><circle cx="341.9" cy="221.4" r="1.30"/><circle cx="338.6" cy="226.4" r="1.30"/><circle cx="344.7" cy="229.0" r="1.30"/><circle cx="337.6" cy="230.0" r="1.30"/><circle cx="340.7" cy="232.1" r="1.30"/><circle cx="343.3" cy="234.3" r="1.30"/><circle cx="350.4" cy="237.1" r="1.30"/><circle cx="345.7" cy="237.9" r="1.30"/></g>
<path d="M346.1,195.7 C345.9,196.8 345.4,200.1 345.0,202.1 C344.6,204.1 344.0,206.0 343.9,207.9 C343.8,209.8 344.5,211.9 344.3,213.6 C344.1,215.3 343.5,216.6 342.9,217.9 C342.2,219.2 340.8,220.0 340.4,221.4 C340.0,222.8 340.7,224.9 340.7,226.4 C340.7,227.9 340.0,229.6 340.4,230.7 C340.8,231.8 341.9,232.1 342.9,232.9 C343.9,233.7 345.7,235.1 346.4,235.7 C347.1,236.3 347.0,236.5 347.1,236.7" fill="none" stroke="#d80000" stroke-width="1.9" stroke-linejoin="round" stroke-linecap="round"/>
</g>
<rect x="330.5" y="169.5" width="65" height="74" fill="none" stroke="#1a1a1a" stroke-width="1.05"/>
<path d="M330.5,184.6h2.1 M330.5,199.5h2.1 M330.5,214.4h2.1 M330.5,229.4h2.1 M330.5,244.3h2.1 M346.8,243.5v-2.0 M363.0,243.5v-2.0 M379.2,243.5v-2.0" stroke="#1a1a1a" stroke-width="0.9" fill="none"/>
<g font-size="5.9" text-anchor="middle" fill="#000" stroke="#000" stroke-width="0.12" font-family="'Liberation Sans', Arial, sans-serif"><text x="330.5" y="251.2">0</text><text x="346.8" y="251.2">1</text><text x="363.0" y="251.2">2</text><text x="379.2" y="251.2">3</text><text x="395.5" y="251.2">4</text></g>
<g>
<path d="M423.6,206.4 L434.3,207.6 L423.1,207.9 L423.1,210.0 L421.1,221.0 L433.6,222.1 L435.0,230.0 L455.4,237.1 L424.3,237.9" fill="none" stroke="#9fd6ee" stroke-width="0.70" stroke-linejoin="round"/>
<g fill="#84cbe8" stroke="#22374a" stroke-width="0.50"><circle cx="423.6" cy="206.4" r="1.30"/><circle cx="434.3" cy="207.6" r="1.30"/><circle cx="423.1" cy="207.9" r="1.30"/><circle cx="423.1" cy="210.0" r="1.30"/><circle cx="421.1" cy="221.0" r="1.30"/><circle cx="433.6" cy="222.1" r="1.30"/><circle cx="435.0" cy="230.0" r="1.30"/><circle cx="455.4" cy="237.1" r="1.30"/><circle cx="424.3" cy="237.9" r="1.30"/></g>
<path d="M427.1,207.9 C426.6,208.4 425.1,209.8 424.3,210.7 C423.6,211.6 422.6,212.6 422.6,213.6 C422.6,214.6 423.6,215.2 424.3,216.4 C425.1,217.6 426.0,219.3 427.1,220.7 C428.2,222.1 429.3,223.9 430.7,225.0 C432.1,226.1 433.9,226.3 435.7,227.1 C437.5,227.9 440.7,229.0 441.4,230.0 C442.1,231.0 440.5,232.1 440.0,232.9 C439.5,233.7 438.6,234.4 438.3,234.7" fill="none" stroke="#d80000" stroke-width="1.9" stroke-linejoin="round" stroke-linecap="round"/>
</g>
<rect x="404.5" y="169.5" width="65" height="74" fill="none" stroke="#1a1a1a" stroke-width="1.05"/>
<path d="M404.5,184.6h2.1 M404.5,199.5h2.1 M404.5,214.4h2.1 M404.5,229.4h2.1 M404.5,244.3h2.1 M420.8,243.5v-2.0 M437.0,243.5v-2.0 M453.2,243.5v-2.0" stroke="#1a1a1a" stroke-width="0.9" fill="none"/>
<g font-size="5.9" text-anchor="middle" fill="#000" stroke="#000" stroke-width="0.12" font-family="'Liberation Sans', Arial, sans-serif"><text x="404.5" y="251.2">0</text><text x="420.8" y="251.2">1</text><text x="437.0" y="251.2">2</text><text x="453.2" y="251.2">3</text><text x="469.5" y="251.2">4</text></g>
<g>
<path d="M497.0,206.3 L507.3,207.8 L498.5,210.2 L499.3,221.5 L514.8,221.9 L535.4,230.3 L511.4,237.6 L495.5,238.2" fill="none" stroke="#9fd6ee" stroke-width="0.70" stroke-linejoin="round"/>
<g fill="#84cbe8" stroke="#22374a" stroke-width="0.50"><circle cx="497.0" cy="206.3" r="1.30"/><circle cx="507.3" cy="207.8" r="1.30"/><circle cx="498.5" cy="210.2" r="1.30"/><circle cx="499.3" cy="221.5" r="1.30"/><circle cx="514.8" cy="221.9" r="1.30"/><circle cx="535.4" cy="230.3" r="1.30"/><circle cx="511.4" cy="237.6" r="1.30"/><circle cx="495.5" cy="238.2" r="1.30"/></g>
<path d="M501.1,208.7 C500.8,209.4 499.1,211.6 499.0,212.8 C498.9,214.0 499.2,214.7 500.8,215.8 C502.4,216.9 505.9,218.3 508.4,219.6 C510.9,220.9 514.0,221.9 516.0,223.4 C518.0,224.9 520.0,227.3 520.5,228.8 C521.0,230.3 520.0,231.5 519.0,232.5 C518.0,233.5 515.5,234.4 514.8,234.8" fill="none" stroke="#d80000" stroke-width="1.9" stroke-linejoin="round" stroke-linecap="round"/>
</g>
<rect x="479.5" y="169.5" width="65" height="74" fill="none" stroke="#1a1a1a" stroke-width="1.05"/>
<path d="M479.5,184.6h2.1 M479.5,199.5h2.1 M479.5,214.4h2.1 M479.5,229.4h2.1 M479.5,244.3h2.1 M492.5,243.5v-2.0 M505.5,243.5v-2.0 M518.5,243.5v-2.0 M531.5,243.5v-2.0" stroke="#1a1a1a" stroke-width="0.9" fill="none"/>
<g font-size="5.9" text-anchor="middle" fill="#000" stroke="#000" stroke-width="0.12" font-family="'Liberation Sans', Arial, sans-serif"><text x="479.5" y="251.2">0</text><text x="492.5" y="251.2">1</text><text x="505.5" y="251.2">2</text><text x="518.5" y="251.2">3</text><text x="531.5" y="251.2">4</text><text x="544.5" y="251.2">5</text></g>
<g font-size="5.9" text-anchor="end" fill="#000" stroke="#000" stroke-width="0.12" font-family="'Liberation Sans', Arial, sans-serif"><text x="29.2" y="186.5">-15</text><text x="29.2" y="201.4">-20</text><text x="29.2" y="216.3">-25</text><text x="29.2" y="231.3">-30</text><text x="29.2" y="246.2">-35</text></g>
<text x="28.5" y="173.5" font-size="5.9" text-anchor="end" fill="#000" stroke="#000" stroke-width="0.12" font-family="'Liberation Sans', Arial, sans-serif">(m)</text>
<circle cx="7.2" cy="293.0" r="6.6" fill="#fff" stroke="#111" stroke-width="0.95"/>
<text x="7.2" y="296.6" font-size="10" text-anchor="middle" font-family="'Liberation Sans', Arial, sans-serif">2</text>
<rect x="31" y="285.0" width="364.5" height="12.5" fill="url(#hatch)"/>
<text x="397.2" y="293.1" font-size="5.9" font-weight="bold" fill="#2b3350" font-family="'Liberation Sans', Arial, sans-serif">NRB</text>
<g>
<path d="M72.3,267.5 L69.6,269.3 L68.8,271.1 L67.9,272.3 L62.5,272.9 L64.3,274.1 L62.9,277.1 L65.2,277.1 L74.1,280.0 L61.6,287.5 L61.1,288.9 L53.2,289.3 L49.1,292.0 L44.3,294.6 L83.6,312.1 L82.1,313.4 L81.3,314.6 L83.9,315.7 L81.3,317.5 L74.6,317.9" fill="none" stroke="#8fd0ec" stroke-width="0.80" stroke-linejoin="round"/>
<g fill="#84cbe8" stroke="#22374a" stroke-width="0.50"><circle cx="72.3" cy="267.5" r="1.30"/><circle cx="69.6" cy="269.3" r="1.30"/><circle cx="68.8" cy="271.1" r="1.30"/><circle cx="67.9" cy="272.3" r="1.30"/><circle cx="62.5" cy="272.9" r="1.30"/><circle cx="64.3" cy="274.1" r="1.30"/><circle cx="62.9" cy="277.1" r="1.30"/><circle cx="65.2" cy="277.1" r="1.30"/><circle cx="74.1" cy="280.0" r="1.30"/><circle cx="61.6" cy="287.5" r="1.30"/><circle cx="61.1" cy="288.9" r="1.30"/><circle cx="53.2" cy="289.3" r="1.30"/><circle cx="49.1" cy="292.0" r="1.30"/><circle cx="44.3" cy="294.6" r="1.30"/><circle cx="83.6" cy="312.1" r="1.30"/><circle cx="82.1" cy="313.4" r="1.30"/><circle cx="81.3" cy="314.6" r="1.30"/><circle cx="83.9" cy="315.7" r="1.30"/><circle cx="81.3" cy="317.5" r="1.30"/><circle cx="74.6" cy="317.9" r="1.30"/></g>
</g>
<rect x="31.5" y="256.5" width="65" height="74" fill="none" stroke="#1a1a1a" stroke-width="1.05"/>
<path d="M31.5,268.3h2.1 M31.5,280.7h2.1 M31.5,293.0h2.1 M31.5,305.3h2.1 M31.5,317.7h2.1 M31.5,330.0h2.1 M42.3,330.5v-2.0 M53.2,330.5v-2.0 M64.0,330.5v-2.0 M74.8,330.5v-2.0 M85.7,330.5v-2.0" stroke="#1a1a1a" stroke-width="0.9" fill="none"/>
<g font-size="5.9" text-anchor="middle" fill="#000" stroke="#000" stroke-width="0.12" font-family="'Liberation Sans', Arial, sans-serif"><text x="30.7" y="338.2">-30</text><text x="41.5" y="338.2">-29</text><text x="52.4" y="338.2">-28</text><text x="63.2" y="338.2">-27</text><text x="74.0" y="338.2">-26</text><text x="84.9" y="338.2">-25</text><text x="95.7" y="338.2">-24</text></g>
<g>
<path d="M111.1,268.3 L110.7,270.0 L110.3,272.1 L110.0,274.3 L109.3,279.3 L109.3,288.6 L108.3,294.6 L153.1,294.6 L115.4,296.4 L116.4,298.6 L119.3,311.4 L116.9,315.0 L117.1,316.4 L122.1,317.4" fill="none" stroke="#8fd0ec" stroke-width="0.80" stroke-linejoin="round"/>
<g fill="#84cbe8" stroke="#22374a" stroke-width="0.50"><circle cx="111.1" cy="268.3" r="1.30"/><circle cx="110.7" cy="270.0" r="1.30"/><circle cx="110.3" cy="272.1" r="1.30"/><circle cx="110.0" cy="274.3" r="1.30"/><circle cx="109.3" cy="279.3" r="1.30"/><circle cx="109.3" cy="288.6" r="1.30"/><circle cx="108.3" cy="294.6" r="1.30"/><circle cx="153.1" cy="294.6" r="1.30"/><circle cx="115.4" cy="296.4" r="1.30"/><circle cx="116.4" cy="298.6" r="1.30"/><circle cx="119.3" cy="311.4" r="1.30"/><circle cx="116.9" cy="315.0" r="1.30"/><circle cx="117.1" cy="316.4" r="1.30"/><circle cx="122.1" cy="317.4" r="1.30"/></g>
<path d="M111.1,267.9 C111.0,269.7 110.5,274.7 110.3,278.6 C110.1,282.5 108.6,289.0 109.7,291.4 C110.8,293.8 113.5,292.2 117.1,292.9 C120.7,293.6 131.6,294.8 131.4,295.4 C131.2,296.0 118.0,296.0 115.7,296.4 C113.5,296.8 117.5,295.4 117.9,297.9 C118.3,300.4 118.5,308.4 118.3,311.4 C118.1,314.4 116.9,314.8 116.9,315.7 C117.0,316.6 118.3,316.9 118.6,317.1" fill="none" stroke="#d80000" stroke-width="1.9" stroke-linejoin="round" stroke-linecap="round"/>
</g>
<rect x="105.5" y="256.5" width="67" height="74" fill="none" stroke="#1a1a1a" stroke-width="1.05"/>
<path d="M105.5,268.3h2.1 M105.5,280.7h2.1 M105.5,293.0h2.1 M105.5,305.3h2.1 M105.5,317.7h2.1 M105.5,330.0h2.1 M127.8,330.5v-2.0 M150.2,330.5v-2.0" stroke="#1a1a1a" stroke-width="0.9" fill="none"/>
<g font-size="5.9" text-anchor="middle" fill="#000" stroke="#000" stroke-width="0.12" font-family="'Liberation Sans', Arial, sans-serif"><text x="105.5" y="338.2">0</text><text x="127.8" y="338.2">1</text><text x="150.2" y="338.2">2</text><text x="172.5" y="338.2">3</text></g>
<g>
<path d="M192.4,267.9 L196.1,268.3 L191.0,270.0 L191.4,272.1 L190.0,276.9 L202.9,279.3 L188.6,287.4 L230.0,290.3 L196.4,290.7 L188.6,293.6 L200.0,294.0 L201.4,295.0 L182.1,296.0 L185.7,311.7 L188.1,312.9 L187.6,316.9" fill="none" stroke="#8fd0ec" stroke-width="0.80" stroke-linejoin="round"/>
<g fill="#84cbe8" stroke="#22374a" stroke-width="0.50"><circle cx="192.4" cy="267.9" r="1.30"/><circle cx="196.1" cy="268.3" r="1.30"/><circle cx="191.0" cy="270.0" r="1.30"/><circle cx="191.4" cy="272.1" r="1.30"/><circle cx="190.0" cy="276.9" r="1.30"/><circle cx="202.9" cy="279.3" r="1.30"/><circle cx="188.6" cy="287.4" r="1.30"/><circle cx="230.0" cy="290.3" r="1.30"/><circle cx="196.4" cy="290.7" r="1.30"/><circle cx="188.6" cy="293.6" r="1.30"/><circle cx="200.0" cy="294.0" r="1.30"/><circle cx="201.4" cy="295.0" r="1.30"/><circle cx="182.1" cy="296.0" r="1.30"/><circle cx="185.7" cy="311.7" r="1.30"/><circle cx="188.1" cy="312.9" r="1.30"/><circle cx="187.6" cy="316.9" r="1.30"/></g>
<path d="M193.3,269.3 C193.1,270.5 191.6,275.0 191.9,276.4 C192.2,277.8 194.2,276.7 195.0,277.4 C195.8,278.1 195.1,278.9 196.4,280.7 C197.7,282.5 198.9,286.9 202.9,288.3 C206.9,289.7 220.6,289.0 220.7,289.3 C220.8,289.6 207.4,289.6 203.6,290.0 C199.8,290.4 199.3,290.8 197.9,291.4 C196.5,292.0 197.4,292.8 195.0,293.6 C192.6,294.4 185.4,294.4 183.6,296.4 C181.8,298.4 184.1,303.1 184.3,305.7 C184.5,308.2 184.1,310.4 184.7,311.7 C185.2,313.0 187.1,312.7 187.6,313.6 C188.1,314.5 187.6,316.3 187.6,316.9" fill="none" stroke="#d80000" stroke-width="1.9" stroke-linejoin="round" stroke-linecap="round"/>
</g>
<rect x="181.5" y="256.5" width="65" height="74" fill="none" stroke="#1a1a1a" stroke-width="1.05"/>
<path d="M181.5,268.3h2.1 M181.5,280.7h2.1 M181.5,293.0h2.1 M181.5,305.3h2.1 M181.5,317.7h2.1 M181.5,330.0h2.1 M192.3,330.5v-2.0 M203.2,330.5v-2.0 M214.0,330.5v-2.0 M224.8,330.5v-2.0 M235.7,330.5v-2.0" stroke="#1a1a1a" stroke-width="0.9" fill="none"/>
<g font-size="5.9" text-anchor="middle" fill="#000" stroke="#000" stroke-width="0.12" font-family="'Liberation Sans', Arial, sans-serif"><text x="181.5" y="338.2">0</text><text x="192.3" y="338.2">1</text><text x="203.2" y="338.2">2</text><text x="214.0" y="338.2">3</text><text x="224.8" y="338.2">4</text><text x="235.7" y="338.2">5</text><text x="246.5" y="338.2">6</text></g>
<g>
<path d="M284.3,267.9 L288.6,268.3 L279.3,270.3 L282.1,272.1 L280.7,272.9 L280.7,277.4 L261.7,279.7 L270.7,287.9 L261.4,290.3 L256.4,290.7 L266.4,291.4 L261.4,296.0 L265.7,311.1 L262.9,311.7 L267.9,316.0 L275.0,317.1" fill="none" stroke="#8fd0ec" stroke-width="0.80" stroke-linejoin="round"/>
<g fill="#84cbe8" stroke="#22374a" stroke-width="0.50"><circle cx="284.3" cy="267.9" r="1.30"/><circle cx="288.6" cy="268.3" r="1.30"/><circle cx="279.3" cy="270.3" r="1.30"/><circle cx="282.1" cy="272.1" r="1.30"/><circle cx="280.7" cy="272.9" r="1.30"/><circle cx="280.7" cy="277.4" r="1.30"/><circle cx="261.7" cy="279.7" r="1.30"/><circle cx="270.7" cy="287.9" r="1.30"/><circle cx="261.4" cy="290.3" r="1.30"/><circle cx="256.4" cy="290.7" r="1.30"/><circle cx="266.4" cy="291.4" r="1.30"/><circle cx="261.4" cy="296.0" r="1.30"/><circle cx="265.7" cy="311.1" r="1.30"/><circle cx="262.9" cy="311.7" r="1.30"/><circle cx="267.9" cy="316.0" r="1.30"/><circle cx="275.0" cy="317.1" r="1.30"/></g>
<path d="M283.6,269.3 C283.0,270.6 281.7,275.8 280.0,277.1 C278.3,278.4 276.5,275.0 273.6,277.1 C270.8,279.2 264.4,287.1 262.9,290.0 C261.3,292.9 264.2,293.1 264.3,294.3 C264.4,295.5 263.6,294.0 263.6,297.1 C263.6,300.2 263.8,309.8 264.3,312.9 C264.8,316.0 265.7,315.1 266.4,315.7 C267.1,316.3 268.2,316.3 268.6,316.4" fill="none" stroke="#d80000" stroke-width="1.9" stroke-linejoin="round" stroke-linecap="round"/>
</g>
<rect x="255.5" y="256.5" width="65" height="74" fill="none" stroke="#1a1a1a" stroke-width="1.05"/>
<path d="M255.5,268.3h2.1 M255.5,280.7h2.1 M255.5,293.0h2.1 M255.5,305.3h2.1 M255.5,317.7h2.1 M255.5,330.0h2.1 M271.8,330.5v-2.0 M288.0,330.5v-2.0 M304.2,330.5v-2.0" stroke="#1a1a1a" stroke-width="0.9" fill="none"/>
<g font-size="5.9" text-anchor="middle" fill="#000" stroke="#000" stroke-width="0.12" font-family="'Liberation Sans', Arial, sans-serif"><text x="255.5" y="338.2">0</text><text x="271.8" y="338.2">1</text><text x="288.0" y="338.2">2</text><text x="304.2" y="338.2">3</text><text x="320.5" y="338.2">4</text></g>
<g>
<path d="M340.0,267.9 L342.1,270.0 L338.6,271.7 L341.9,272.9 L339.0,277.1 L378.1,279.7 L347.6,287.4 L387.1,290.3 L389.3,290.7 L372.1,294.3 L348.6,294.6 L370.7,295.0 L339.0,297.1 L349.3,311.7 L346.4,312.9 L345.7,315.0 L355.7,315.4 L345.0,316.9" fill="none" stroke="#8fd0ec" stroke-width="0.80" stroke-linejoin="round"/>
<g fill="#84cbe8" stroke="#22374a" stroke-width="0.50"><circle cx="340.0" cy="267.9" r="1.30"/><circle cx="342.1" cy="270.0" r="1.30"/><circle cx="338.6" cy="271.7" r="1.30"/><circle cx="341.9" cy="272.9" r="1.30"/><circle cx="339.0" cy="277.1" r="1.30"/><circle cx="378.1" cy="279.7" r="1.30"/><circle cx="347.6" cy="287.4" r="1.30"/><circle cx="387.1" cy="290.3" r="1.30"/><circle cx="389.3" cy="290.7" r="1.30"/><circle cx="372.1" cy="294.3" r="1.30"/><circle cx="348.6" cy="294.6" r="1.30"/><circle cx="370.7" cy="295.0" r="1.30"/><circle cx="339.0" cy="297.1" r="1.30"/><circle cx="349.3" cy="311.7" r="1.30"/><circle cx="346.4" cy="312.9" r="1.30"/><circle cx="345.7" cy="315.0" r="1.30"/><circle cx="355.7" cy="315.4" r="1.30"/><circle cx="345.0" cy="316.9" r="1.30"/></g>
<path d="M340.7,269.3 C340.9,269.9 342.0,271.8 341.9,272.9 C341.8,274.0 338.4,275.3 340.0,276.0 C341.6,276.7 348.9,276.3 351.4,277.1 C353.9,277.9 353.2,279.4 355.0,280.7 C356.8,282.0 361.9,283.7 362.4,285.0 C362.9,286.3 357.0,287.7 357.9,288.3 C358.8,288.9 363.4,288.5 367.9,288.9 C372.4,289.3 385.0,290.0 385.0,290.7 C385.0,291.4 373.1,292.2 367.9,292.9 C362.7,293.5 358.1,294.1 353.6,294.6 C349.1,295.1 343.1,295.6 340.7,296.0 C338.3,296.4 338.4,294.8 339.3,297.1 C340.2,299.4 344.8,307.0 346.4,310.0 C347.9,313.0 348.1,314.1 348.6,315.0 C349.1,315.9 349.2,315.6 349.3,315.7" fill="none" stroke="#d80000" stroke-width="1.9" stroke-linejoin="round" stroke-linecap="round"/>
</g>
<rect x="330.5" y="256.5" width="65" height="74" fill="none" stroke="#1a1a1a" stroke-width="1.05"/>
<path d="M330.5,268.3h2.1 M330.5,280.7h2.1 M330.5,293.0h2.1 M330.5,305.3h2.1 M330.5,317.7h2.1 M330.5,330.0h2.1 M346.8,330.5v-2.0 M363.0,330.5v-2.0 M379.2,330.5v-2.0" stroke="#1a1a1a" stroke-width="0.9" fill="none"/>
<g font-size="5.9" text-anchor="middle" fill="#000" stroke="#000" stroke-width="0.12" font-family="'Liberation Sans', Arial, sans-serif"><text x="330.5" y="338.2">0</text><text x="346.8" y="338.2">1</text><text x="363.0" y="338.2">2</text><text x="379.2" y="338.2">3</text><text x="395.5" y="338.2">4</text></g>
<g font-size="5.9" text-anchor="end" fill="#000" stroke="#000" stroke-width="0.12" font-family="'Liberation Sans', Arial, sans-serif"><text x="29.2" y="270.2">410</text><text x="29.2" y="282.6">415</text><text x="29.2" y="294.9">420</text><text x="29.2" y="307.2">425</text><text x="29.2" y="319.6">430</text><text x="29.2" y="331.9">435</text></g>
<text x="28.5" y="260.5" font-size="5.9" text-anchor="end" fill="#000" stroke="#000" stroke-width="0.12" font-family="'Liberation Sans', Arial, sans-serif">(m)</text>
<circle cx="7.2" cy="379.5" r="6.6" fill="#fff" stroke="#111" stroke-width="0.95"/>
<text x="7.2" y="383.1" font-size="10" text-anchor="middle" font-family="'Liberation Sans', Arial, sans-serif">3</text>
<rect x="31" y="380.0" width="513.5" height="6.5" fill="url(#hatch)"/>
<text x="547.8" y="385.8" font-size="5.9" font-weight="bold" fill="#2b3350" font-family="'Liberation Sans', Arial, sans-serif">NRB</text>
<g>
<path d="M50.9,351.4 L45.5,352.5 L51.8,352.9 L55.0,353.2 L49.1,354.3 L50.9,355.5 L43.8,356.4 L47.3,357.3 L42.9,366.3 L43.8,367.5 L53.9,368.0 L37.1,368.9 L42.9,369.8 L42.0,371.6 L33.9,372.5 L47.3,374.3 L37.5,375.2 L33.0,376.1 L39.3,377.0 L44.6,377.5 L48.6,378.2 L35.7,379.3 L32.1,380.5 L37.5,381.8 L43.8,382.3 L36.6,383.6 L45.5,385.9 L47.3,387.1 L40.7,388.6 L36.6,389.5 L44.6,390.4 L41.1,391.3 L37.9,392.1 L47.3,392.5 L38.4,393.6 L47.3,402.5 L44.6,402.9 L49.6,404.6 L48.2,407.3 L49.6,408.2 L57.1,411.8" fill="none" stroke="#3d9be0" stroke-width="0.90" stroke-linejoin="round"/>
<g fill="#2080cc" stroke="#0b2a4f" stroke-width="0.68"><circle cx="50.9" cy="351.4" r="1.25"/><circle cx="45.5" cy="352.5" r="1.25"/><circle cx="51.8" cy="352.9" r="1.25"/><circle cx="55.0" cy="353.2" r="1.25"/><circle cx="49.1" cy="354.3" r="1.25"/><circle cx="50.9" cy="355.5" r="1.25"/><circle cx="43.8" cy="356.4" r="1.25"/><circle cx="47.3" cy="357.3" r="1.25"/><circle cx="42.9" cy="366.3" r="1.25"/><circle cx="43.8" cy="367.5" r="1.25"/><circle cx="53.9" cy="368.0" r="1.25"/><circle cx="37.1" cy="368.9" r="1.25"/><circle cx="42.9" cy="369.8" r="1.25"/><circle cx="42.0" cy="371.6" r="1.25"/><circle cx="33.9" cy="372.5" r="1.25"/><circle cx="47.3" cy="374.3" r="1.25"/><circle cx="37.5" cy="375.2" r="1.25"/><circle cx="33.0" cy="376.1" r="1.25"/><circle cx="39.3" cy="377.0" r="1.25"/><circle cx="44.6" cy="377.5" r="1.25"/><circle cx="48.6" cy="378.2" r="1.25"/><circle cx="35.7" cy="379.3" r="1.25"/><circle cx="32.1" cy="380.5" r="1.25"/><circle cx="37.5" cy="381.8" r="1.25"/><circle cx="43.8" cy="382.3" r="1.25"/><circle cx="36.6" cy="383.6" r="1.25"/><circle cx="45.5" cy="385.9" r="1.25"/><circle cx="47.3" cy="387.1" r="1.25"/><circle cx="40.7" cy="388.6" r="1.25"/><circle cx="36.6" cy="389.5" r="1.25"/><circle cx="44.6" cy="390.4" r="1.25"/><circle cx="41.1" cy="391.3" r="1.25"/><circle cx="37.9" cy="392.1" r="1.25"/><circle cx="47.3" cy="392.5" r="1.25"/><circle cx="38.4" cy="393.6" r="1.25"/><circle cx="47.3" cy="402.5" r="1.25"/><circle cx="44.6" cy="402.9" r="1.25"/><circle cx="49.6" cy="404.6" r="1.25"/><circle cx="48.2" cy="407.3" r="1.25"/><circle cx="49.6" cy="408.2" r="1.25"/><circle cx="57.1" cy="411.8" r="1.25"/></g>
</g>
<rect x="31.5" y="342.5" width="65" height="75" fill="none" stroke="#1a1a1a" stroke-width="1.05"/>
<path d="M31.5,350.2h2.1 M31.5,366.9h2.1 M31.5,383.6h2.1 M31.5,400.3h2.1 M31.5,417.0h2.1 M31.5,358.6h1.6 M31.5,375.2h1.6 M31.5,391.9h1.6 M31.5,408.6h1.6 M42.3,417.5v-2.0 M53.2,417.5v-2.0 M64.0,417.5v-2.0 M74.8,417.5v-2.0 M85.7,417.5v-2.0" stroke="#1a1a1a" stroke-width="0.9" fill="none"/>
<g font-size="5.9" text-anchor="middle" fill="#000" stroke="#000" stroke-width="0.12" font-family="'Liberation Sans', Arial, sans-serif"><text x="30.7" y="425.2">-30</text><text x="41.5" y="425.2">-29</text><text x="52.4" y="425.2">-28</text><text x="63.2" y="425.2">-27</text><text x="74.0" y="425.2">-26</text><text x="84.9" y="425.2">-25</text><text x="95.7" y="425.2">-24</text></g>
<g>
<path d="M125.7,351.3 L130.0,352.0 L120.7,353.4 L145.4,354.4 L123.6,355.6 L132.9,356.3 L141.4,358.7 L137.1,360.6 L127.1,365.9 L117.9,368.7 L121.4,370.1 L132.6,371.6 L115.4,372.4 L121.1,374.4 L113.6,375.3 L130.7,377.0 L127.1,378.4 L142.6,379.1 L130.0,379.9 L138.9,382.0 L126.4,382.4 L124.3,384.1 L121.4,386.7 L126.4,389.6 L117.9,391.3 L122.1,392.7 L132.6,393.0 L135.7,394.4 L130.7,403.0 L162.9,405.0 L116.4,405.9 L140.7,408.4 L140.0,409.1 L107.9,412.7" fill="none" stroke="#3d9be0" stroke-width="0.90" stroke-linejoin="round"/>
<g fill="#2080cc" stroke="#0b2a4f" stroke-width="0.68"><circle cx="125.7" cy="351.3" r="1.25"/><circle cx="130.0" cy="352.0" r="1.25"/><circle cx="120.7" cy="353.4" r="1.25"/><circle cx="145.4" cy="354.4" r="1.25"/><circle cx="123.6" cy="355.6" r="1.25"/><circle cx="132.9" cy="356.3" r="1.25"/><circle cx="141.4" cy="358.7" r="1.25"/><circle cx="137.1" cy="360.6" r="1.25"/><circle cx="127.1" cy="365.9" r="1.25"/><circle cx="117.9" cy="368.7" r="1.25"/><circle cx="121.4" cy="370.1" r="1.25"/><circle cx="132.6" cy="371.6" r="1.25"/><circle cx="115.4" cy="372.4" r="1.25"/><circle cx="121.1" cy="374.4" r="1.25"/><circle cx="113.6" cy="375.3" r="1.25"/><circle cx="130.7" cy="377.0" r="1.25"/><circle cx="127.1" cy="378.4" r="1.25"/><circle cx="142.6" cy="379.1" r="1.25"/><circle cx="130.0" cy="379.9" r="1.25"/><circle cx="138.9" cy="382.0" r="1.25"/><circle cx="126.4" cy="382.4" r="1.25"/><circle cx="124.3" cy="384.1" r="1.25"/><circle cx="121.4" cy="386.7" r="1.25"/><circle cx="126.4" cy="389.6" r="1.25"/><circle cx="117.9" cy="391.3" r="1.25"/><circle cx="122.1" cy="392.7" r="1.25"/><circle cx="132.6" cy="393.0" r="1.25"/><circle cx="135.7" cy="394.4" r="1.25"/><circle cx="130.7" cy="403.0" r="1.25"/><circle cx="162.9" cy="405.0" r="1.25"/><circle cx="116.4" cy="405.9" r="1.25"/><circle cx="140.7" cy="408.4" r="1.25"/><circle cx="140.0" cy="409.1" r="1.25"/><circle cx="107.9" cy="412.7" r="1.25"/></g>
<path d="M127.1,353.0 C127.9,353.1 132.2,353.6 132.1,353.9 C132.0,354.2 126.4,354.6 126.4,354.9 C126.4,355.2 130.2,355.1 132.1,355.6 C134.0,356.1 137.4,356.6 137.9,357.7 C138.4,358.8 135.7,360.6 135.0,362.0 C134.3,363.4 135.6,365.2 133.6,366.3 C131.6,367.4 125.1,367.9 122.9,368.7 C120.8,369.5 120.5,370.5 120.7,371.3 C120.9,372.1 124.4,372.8 124.3,373.4 C124.2,374.0 119.5,374.3 120.0,374.9 C120.5,375.5 124.8,376.3 127.1,377.0 C129.4,377.7 133.0,378.3 133.6,379.1 C134.2,379.9 132.2,380.8 130.7,381.6 C129.1,382.4 125.6,383.1 124.3,384.1 C123.0,385.1 123.4,386.6 122.9,387.7 C122.4,388.8 121.1,389.9 121.4,390.6 C121.8,391.3 123.1,391.6 125.0,392.0 C126.9,392.4 131.3,392.2 132.9,393.0 C134.5,393.8 133.6,395.3 134.3,397.0 C135.0,398.7 135.2,402.2 137.1,403.4 C139.0,404.5 145.4,403.5 145.7,403.9 C145.9,404.3 141.2,404.8 138.6,405.6 C136.0,406.4 131.4,408.2 130.0,408.7" fill="none" stroke="#d80000" stroke-width="1.9" stroke-linejoin="round" stroke-linecap="round"/>
</g>
<rect x="105.5" y="342.5" width="67" height="75" fill="none" stroke="#1a1a1a" stroke-width="1.05"/>
<path d="M105.5,350.2h2.1 M105.5,366.9h2.1 M105.5,383.6h2.1 M105.5,400.3h2.1 M105.5,417.0h2.1 M105.5,358.6h1.6 M105.5,375.2h1.6 M105.5,391.9h1.6 M105.5,408.6h1.6 M118.9,417.5v-2.0 M132.3,417.5v-2.0 M145.7,417.5v-2.0 M159.1,417.5v-2.0" stroke="#1a1a1a" stroke-width="0.9" fill="none"/>
<g font-size="5.9" text-anchor="middle" fill="#000" stroke="#000" stroke-width="0.12" font-family="'Liberation Sans', Arial, sans-serif"><text x="105.5" y="425.2">0</text><text x="118.9" y="425.2">1</text><text x="132.3" y="425.2">2</text><text x="145.7" y="425.2">3</text><text x="159.1" y="425.2">4</text><text x="172.5" y="425.2">5</text></g>
<g>
<path d="M186.1,352.4 L195.7,352.7 L203.9,354.1 L185.0,354.9 L193.6,356.7 L186.4,358.7 L184.7,367.3 L195.7,369.1 L192.9,371.0 L184.3,373.4 L187.9,374.9 L206.4,375.3 L195.7,375.6 L185.7,378.4 L199.0,379.6 L183.6,382.0 L185.7,384.1 L199.3,387.3 L189.3,389.6 L192.9,389.9 L186.4,390.6 L202.1,391.6 L189.3,393.9 L192.9,394.9 L184.3,394.9 L194.3,403.0 L190.7,404.9 L200.0,408.1 L204.3,409.1 L191.4,412.0" fill="none" stroke="#3d9be0" stroke-width="0.90" stroke-linejoin="round"/>
<g fill="#2080cc" stroke="#0b2a4f" stroke-width="0.68"><circle cx="186.1" cy="352.4" r="1.25"/><circle cx="195.7" cy="352.7" r="1.25"/><circle cx="203.9" cy="354.1" r="1.25"/><circle cx="185.0" cy="354.9" r="1.25"/><circle cx="193.6" cy="356.7" r="1.25"/><circle cx="186.4" cy="358.7" r="1.25"/><circle cx="184.7" cy="367.3" r="1.25"/><circle cx="195.7" cy="369.1" r="1.25"/><circle cx="192.9" cy="371.0" r="1.25"/><circle cx="184.3" cy="373.4" r="1.25"/><circle cx="187.9" cy="374.9" r="1.25"/><circle cx="206.4" cy="375.3" r="1.25"/><circle cx="195.7" cy="375.6" r="1.25"/><circle cx="185.7" cy="378.4" r="1.25"/><circle cx="199.0" cy="379.6" r="1.25"/><circle cx="183.6" cy="382.0" r="1.25"/><circle cx="185.7" cy="384.1" r="1.25"/><circle cx="199.3" cy="387.3" r="1.25"/><circle cx="189.3" cy="389.6" r="1.25"/><circle cx="192.9" cy="389.9" r="1.25"/><circle cx="186.4" cy="390.6" r="1.25"/><circle cx="202.1" cy="391.6" r="1.25"/><circle cx="189.3" cy="393.9" r="1.25"/><circle cx="192.9" cy="394.9" r="1.25"/><circle cx="184.3" cy="394.9" r="1.25"/><circle cx="194.3" cy="403.0" r="1.25"/><circle cx="190.7" cy="404.9" r="1.25"/><circle cx="200.0" cy="408.1" r="1.25"/><circle cx="204.3" cy="409.1" r="1.25"/><circle cx="191.4" cy="412.0" r="1.25"/></g>
<path d="M195.7,353.4 C194.4,354.0 189.5,356.1 187.9,357.0 C186.3,357.9 186.4,357.4 186.1,359.1 C185.8,360.8 185.6,365.4 186.1,367.0 C186.6,368.6 188.5,368.0 189.3,368.7 C190.1,369.4 190.9,370.5 190.7,371.3 C190.5,372.1 186.9,372.7 187.9,373.4 C188.9,374.1 196.3,374.8 196.4,375.3 C196.5,375.9 190.2,375.9 188.6,376.7 C187.0,377.5 187.7,378.9 187.1,379.9 C186.5,380.8 184.6,381.7 185.0,382.4 C185.4,383.1 187.4,383.5 189.3,384.1 C191.2,384.8 194.9,385.6 196.4,386.3 C197.9,387.0 199.3,387.8 198.6,388.4 C197.9,389.0 192.1,389.4 192.1,389.9 C192.1,390.4 198.9,391.0 198.6,391.6 C198.2,392.2 191.3,392.5 190.0,393.4 C188.7,394.3 190.4,395.3 190.7,397.0 C191.0,398.7 191.2,402.2 191.9,403.4 C192.6,404.6 193.7,403.3 195.0,404.1 C196.3,404.9 199.2,407.7 200.0,408.4" fill="none" stroke="#d80000" stroke-width="1.9" stroke-linejoin="round" stroke-linecap="round"/>
</g>
<rect x="181.5" y="342.5" width="65" height="75" fill="none" stroke="#1a1a1a" stroke-width="1.05"/>
<path d="M181.5,350.2h2.1 M181.5,366.9h2.1 M181.5,383.6h2.1 M181.5,400.3h2.1 M181.5,417.0h2.1 M181.5,358.6h1.6 M181.5,375.2h1.6 M181.5,391.9h1.6 M181.5,408.6h1.6 M192.3,417.5v-2.0 M203.2,417.5v-2.0 M214.0,417.5v-2.0 M224.8,417.5v-2.0 M235.7,417.5v-2.0" stroke="#1a1a1a" stroke-width="0.9" fill="none"/>
<g font-size="5.9" text-anchor="middle" fill="#000" stroke="#000" stroke-width="0.12" font-family="'Liberation Sans', Arial, sans-serif"><text x="181.5" y="425.2">0</text><text x="192.3" y="425.2">1</text><text x="203.2" y="425.2">2</text><text x="214.0" y="425.2">3</text><text x="224.8" y="425.2">4</text><text x="235.7" y="425.2">5</text><text x="246.5" y="425.2">6</text></g>
<g>
<path d="M261.1,352.4 L265.4,352.7 L267.1,353.9 L263.6,354.4 L268.6,355.9 L264.3,358.4 L270.7,366.3 L268.3,368.1 L272.9,368.7 L275.7,370.6 L265.0,371.3 L292.9,374.4 L293.6,375.3 L268.3,375.6 L267.9,377.7 L297.9,379.1 L267.1,380.6 L272.9,382.0 L266.9,384.1 L268.3,387.0 L271.4,389.1 L277.1,390.6 L267.9,392.0 L278.6,393.9 L266.0,394.4 L275.0,403.0 L276.4,403.9 L269.3,405.3 L272.9,406.3 L280.7,408.1 L284.3,409.1 L264.3,412.7" fill="none" stroke="#3d9be0" stroke-width="0.90" stroke-linejoin="round"/>
<g fill="#2080cc" stroke="#0b2a4f" stroke-width="0.68"><circle cx="261.1" cy="352.4" r="1.25"/><circle cx="265.4" cy="352.7" r="1.25"/><circle cx="267.1" cy="353.9" r="1.25"/><circle cx="263.6" cy="354.4" r="1.25"/><circle cx="268.6" cy="355.9" r="1.25"/><circle cx="264.3" cy="358.4" r="1.25"/><circle cx="270.7" cy="366.3" r="1.25"/><circle cx="268.3" cy="368.1" r="1.25"/><circle cx="272.9" cy="368.7" r="1.25"/><circle cx="275.7" cy="370.6" r="1.25"/><circle cx="265.0" cy="371.3" r="1.25"/><circle cx="292.9" cy="374.4" r="1.25"/><circle cx="293.6" cy="375.3" r="1.25"/><circle cx="268.3" cy="375.6" r="1.25"/><circle cx="267.9" cy="377.7" r="1.25"/><circle cx="297.9" cy="379.1" r="1.25"/><circle cx="267.1" cy="380.6" r="1.25"/><circle cx="272.9" cy="382.0" r="1.25"/><circle cx="266.9" cy="384.1" r="1.25"/><circle cx="268.3" cy="387.0" r="1.25"/><circle cx="271.4" cy="389.1" r="1.25"/><circle cx="277.1" cy="390.6" r="1.25"/><circle cx="267.9" cy="392.0" r="1.25"/><circle cx="278.6" cy="393.9" r="1.25"/><circle cx="266.0" cy="394.4" r="1.25"/><circle cx="275.0" cy="403.0" r="1.25"/><circle cx="276.4" cy="403.9" r="1.25"/><circle cx="269.3" cy="405.3" r="1.25"/><circle cx="272.9" cy="406.3" r="1.25"/><circle cx="280.7" cy="408.1" r="1.25"/><circle cx="284.3" cy="409.1" r="1.25"/><circle cx="264.3" cy="412.7" r="1.25"/></g>
<path d="M265.4,352.0 C265.8,352.9 267.0,355.2 267.9,357.7 C268.8,360.2 270.3,364.7 270.7,367.0 C271.1,369.3 266.9,370.1 270.0,371.3 C273.1,372.5 289.1,373.7 289.3,374.4 C289.5,375.1 272.9,375.0 271.4,375.6 C269.8,376.2 280.5,377.5 280.0,378.1 C279.5,378.7 270.8,378.3 268.6,379.1 C266.5,379.9 267.4,381.5 267.1,382.7 C266.9,383.9 266.4,385.1 267.1,386.3 C267.8,387.5 271.1,388.8 271.4,389.6 C271.6,390.4 268.6,390.5 268.6,391.0 C268.6,391.5 270.8,392.2 271.4,392.7 C272.0,393.2 271.9,392.2 272.1,394.1 C272.4,396.0 271.8,401.8 272.9,404.1 C274.0,406.4 278.0,406.9 278.6,407.7 C279.2,408.5 276.8,408.9 276.4,409.1" fill="none" stroke="#d80000" stroke-width="1.9" stroke-linejoin="round" stroke-linecap="round"/>
</g>
<rect x="255.5" y="342.5" width="65" height="75" fill="none" stroke="#1a1a1a" stroke-width="1.05"/>
<path d="M255.5,350.2h2.1 M255.5,366.9h2.1 M255.5,383.6h2.1 M255.5,400.3h2.1 M255.5,417.0h2.1 M255.5,358.6h1.6 M255.5,375.2h1.6 M255.5,391.9h1.6 M255.5,408.6h1.6 M271.8,417.5v-2.0 M288.0,417.5v-2.0 M304.2,417.5v-2.0" stroke="#1a1a1a" stroke-width="0.9" fill="none"/>
<g font-size="5.9" text-anchor="middle" fill="#000" stroke="#000" stroke-width="0.12" font-family="'Liberation Sans', Arial, sans-serif"><text x="255.5" y="425.2">0</text><text x="271.8" y="425.2">2</text><text x="288.0" y="425.2">4</text><text x="304.2" y="425.2">6</text><text x="320.5" y="425.2">8</text></g>
<g>
<path d="M333.9,351.6 L338.1,352.0 L342.9,353.4 L333.3,353.9 L343.3,355.6 L335.0,356.3 L337.9,358.4 L332.9,366.3 L338.6,368.7 L333.9,370.6 L336.4,371.3 L331.9,372.7 L341.9,373.9 L334.3,375.6 L332.9,378.4 L337.9,378.7 L339.3,381.3 L333.6,382.4 L346.4,386.3 L337.1,388.4 L345.0,389.1 L331.0,391.0 L341.9,393.9 L334.3,394.4 L350.4,402.7 L340.4,404.4 L343.6,405.6 L374.3,407.7 L365.3,408.7 L335.3,412.0" fill="none" stroke="#3d9be0" stroke-width="0.90" stroke-linejoin="round"/>
<g fill="#2080cc" stroke="#0b2a4f" stroke-width="0.68"><circle cx="333.9" cy="351.6" r="1.25"/><circle cx="338.1" cy="352.0" r="1.25"/><circle cx="342.9" cy="353.4" r="1.25"/><circle cx="333.3" cy="353.9" r="1.25"/><circle cx="343.3" cy="355.6" r="1.25"/><circle cx="335.0" cy="356.3" r="1.25"/><circle cx="337.9" cy="358.4" r="1.25"/><circle cx="332.9" cy="366.3" r="1.25"/><circle cx="338.6" cy="368.7" r="1.25"/><circle cx="333.9" cy="370.6" r="1.25"/><circle cx="336.4" cy="371.3" r="1.25"/><circle cx="331.9" cy="372.7" r="1.25"/><circle cx="341.9" cy="373.9" r="1.25"/><circle cx="334.3" cy="375.6" r="1.25"/><circle cx="332.9" cy="378.4" r="1.25"/><circle cx="337.9" cy="378.7" r="1.25"/><circle cx="339.3" cy="381.3" r="1.25"/><circle cx="333.6" cy="382.4" r="1.25"/><circle cx="346.4" cy="386.3" r="1.25"/><circle cx="337.1" cy="388.4" r="1.25"/><circle cx="345.0" cy="389.1" r="1.25"/><circle cx="331.0" cy="391.0" r="1.25"/><circle cx="341.9" cy="393.9" r="1.25"/><circle cx="334.3" cy="394.4" r="1.25"/><circle cx="350.4" cy="402.7" r="1.25"/><circle cx="340.4" cy="404.4" r="1.25"/><circle cx="343.6" cy="405.6" r="1.25"/><circle cx="374.3" cy="407.7" r="1.25"/><circle cx="365.3" cy="408.7" r="1.25"/><circle cx="335.3" cy="412.0" r="1.25"/></g>
<path d="M339.3,353.4 C339.0,353.8 338.2,354.3 337.6,355.6 C337.0,356.9 336.5,359.4 335.7,361.3 C334.9,363.2 333.0,365.4 332.9,367.0 C332.8,368.6 334.1,369.5 335.0,370.6 C335.9,371.8 338.8,372.9 338.6,373.9 C338.4,374.8 334.6,375.3 333.9,376.3 C333.2,377.3 333.9,378.8 334.3,379.9 C334.7,381.0 334.8,381.8 336.4,382.7 C337.9,383.6 342.5,384.8 343.6,385.6 C344.7,386.4 344.1,386.6 342.9,387.3 C341.7,388.0 337.7,389.1 336.4,389.9 C335.1,390.7 334.5,391.3 335.0,392.0 C335.5,392.7 338.1,393.3 339.3,394.1 C340.5,394.9 341.4,395.4 342.1,397.0 C342.8,398.6 343.6,402.0 343.6,403.4 C343.6,404.8 340.9,404.8 342.1,405.3 C343.3,405.9 347.6,406.3 350.7,406.7 C353.8,407.1 359.3,407.3 360.7,407.7 C362.1,408.1 359.5,408.9 359.3,409.1" fill="none" stroke="#d80000" stroke-width="1.9" stroke-linejoin="round" stroke-linecap="round"/>
</g>
<rect x="330.5" y="342.5" width="65" height="75" fill="none" stroke="#1a1a1a" stroke-width="1.05"/>
<path d="M330.5,350.2h2.1 M330.5,366.9h2.1 M330.5,383.6h2.1 M330.5,400.3h2.1 M330.5,417.0h2.1 M330.5,358.6h1.6 M330.5,375.2h1.6 M330.5,391.9h1.6 M330.5,408.6h1.6 M352.2,417.5v-2.0 M373.8,417.5v-2.0" stroke="#1a1a1a" stroke-width="0.9" fill="none"/>
<g font-size="5.9" text-anchor="middle" fill="#000" stroke="#000" stroke-width="0.12" font-family="'Liberation Sans', Arial, sans-serif"><text x="330.5" y="425.2">0</text><text x="352.2" y="425.2">5</text><text x="373.8" y="425.2">10</text><text x="395.5" y="425.2">15</text></g>
<g>
<path d="M422.1,351.6 L429.7,352.0 L433.6,353.9 L434.3,354.9 L422.9,356.3 L421.4,357.7 L427.1,358.4 L413.6,368.1 L412.6,370.1 L408.9,372.7 L443.6,373.4 L413.6,377.0 L414.3,379.6 L459.3,381.3 L455.0,382.0 L412.1,383.9 L418.6,386.7 L445.7,387.7 L417.1,388.4 L442.6,389.1 L422.9,390.1 L430.7,392.0 L416.9,393.0 L419.3,403.0 L416.9,403.4 L425.7,408.1 L439.3,408.7 L427.1,412.0" fill="none" stroke="#3d9be0" stroke-width="0.90" stroke-linejoin="round"/>
<g fill="#2080cc" stroke="#0b2a4f" stroke-width="0.68"><circle cx="422.1" cy="351.6" r="1.25"/><circle cx="429.7" cy="352.0" r="1.25"/><circle cx="433.6" cy="353.9" r="1.25"/><circle cx="434.3" cy="354.9" r="1.25"/><circle cx="422.9" cy="356.3" r="1.25"/><circle cx="421.4" cy="357.7" r="1.25"/><circle cx="427.1" cy="358.4" r="1.25"/><circle cx="413.6" cy="368.1" r="1.25"/><circle cx="412.6" cy="370.1" r="1.25"/><circle cx="408.9" cy="372.7" r="1.25"/><circle cx="443.6" cy="373.4" r="1.25"/><circle cx="413.6" cy="377.0" r="1.25"/><circle cx="414.3" cy="379.6" r="1.25"/><circle cx="459.3" cy="381.3" r="1.25"/><circle cx="455.0" cy="382.0" r="1.25"/><circle cx="412.1" cy="383.9" r="1.25"/><circle cx="418.6" cy="386.7" r="1.25"/><circle cx="445.7" cy="387.7" r="1.25"/><circle cx="417.1" cy="388.4" r="1.25"/><circle cx="442.6" cy="389.1" r="1.25"/><circle cx="422.9" cy="390.1" r="1.25"/><circle cx="430.7" cy="392.0" r="1.25"/><circle cx="416.9" cy="393.0" r="1.25"/><circle cx="419.3" cy="403.0" r="1.25"/><circle cx="416.9" cy="403.4" r="1.25"/><circle cx="425.7" cy="408.1" r="1.25"/><circle cx="439.3" cy="408.7" r="1.25"/><circle cx="427.1" cy="412.0" r="1.25"/></g>
<path d="M428.6,352.4 C429.4,352.8 434.2,354.1 433.6,354.9 C433.0,355.7 427.5,355.6 425.0,357.0 C422.5,358.4 420.8,361.1 418.6,363.4 C416.5,365.7 411.8,369.2 412.1,370.6 C412.5,372.0 418.9,371.2 420.7,372.0 C422.5,372.8 420.9,374.5 422.9,375.6 C424.9,376.7 429.6,377.4 432.9,378.4 C436.2,379.3 442.7,380.4 442.9,381.3 C443.1,382.2 438.1,383.4 434.3,384.1 C430.5,384.8 420.2,385.2 420.0,385.6 C419.8,386.0 431.5,385.8 432.9,386.3 C434.3,386.8 428.4,387.9 428.6,388.4 C428.8,388.9 434.8,388.7 434.3,389.1 C433.8,389.5 427.9,390.0 425.7,390.6 C423.5,391.2 422.5,391.9 421.4,392.7 C420.3,393.5 419.8,393.9 419.3,395.6 C418.8,397.3 418.0,401.1 418.6,402.7 C419.2,404.2 421.3,404.1 422.9,404.9 C424.4,405.7 426.6,406.6 427.9,407.3 C429.2,408.0 430.2,408.8 430.7,409.1" fill="none" stroke="#d80000" stroke-width="1.9" stroke-linejoin="round" stroke-linecap="round"/>
</g>
<rect x="404.5" y="342.5" width="65" height="75" fill="none" stroke="#1a1a1a" stroke-width="1.05"/>
<path d="M404.5,350.2h2.1 M404.5,366.9h2.1 M404.5,383.6h2.1 M404.5,400.3h2.1 M404.5,417.0h2.1 M404.5,358.6h1.6 M404.5,375.2h1.6 M404.5,391.9h1.6 M404.5,408.6h1.6 M426.2,417.5v-2.0 M447.8,417.5v-2.0" stroke="#1a1a1a" stroke-width="0.9" fill="none"/>
<g font-size="5.9" text-anchor="middle" fill="#000" stroke="#000" stroke-width="0.12" font-family="'Liberation Sans', Arial, sans-serif"><text x="404.5" y="425.2">0</text><text x="426.2" y="425.2">5</text><text x="447.8" y="425.2">10</text><text x="469.5" y="425.2">15</text></g>
<g>
<path d="M499.6,351.4 L492.9,351.9 L488.4,352.5 L519.8,353.7 L489.4,354.9 L488.7,356.7 L494.0,358.3 L484.9,368.1 L484.4,370.4 L494.4,370.7 L490.2,372.7 L494.7,373.4 L489.9,379.2 L528.1,381.8 L486.8,383.3 L482.6,387.1 L496.3,387.8 L486.8,388.9 L501.6,392.0 L487.1,392.4 L485.6,393.9 L481.8,403.0 L485.3,404.1 L481.1,408.0 L483.3,409.1 L497.5,412.1" fill="none" stroke="#3d9be0" stroke-width="0.90" stroke-linejoin="round"/>
<g fill="#2080cc" stroke="#0b2a4f" stroke-width="0.68"><circle cx="499.6" cy="351.4" r="1.25"/><circle cx="492.9" cy="351.9" r="1.25"/><circle cx="488.4" cy="352.5" r="1.25"/><circle cx="519.8" cy="353.7" r="1.25"/><circle cx="489.4" cy="354.9" r="1.25"/><circle cx="488.7" cy="356.7" r="1.25"/><circle cx="494.0" cy="358.3" r="1.25"/><circle cx="484.9" cy="368.1" r="1.25"/><circle cx="484.4" cy="370.4" r="1.25"/><circle cx="494.4" cy="370.7" r="1.25"/><circle cx="490.2" cy="372.7" r="1.25"/><circle cx="494.7" cy="373.4" r="1.25"/><circle cx="489.9" cy="379.2" r="1.25"/><circle cx="528.1" cy="381.8" r="1.25"/><circle cx="486.8" cy="383.3" r="1.25"/><circle cx="482.6" cy="387.1" r="1.25"/><circle cx="496.3" cy="387.8" r="1.25"/><circle cx="486.8" cy="388.9" r="1.25"/><circle cx="501.6" cy="392.0" r="1.25"/><circle cx="487.1" cy="392.4" r="1.25"/><circle cx="485.6" cy="393.9" r="1.25"/><circle cx="481.8" cy="403.0" r="1.25"/><circle cx="485.3" cy="404.1" r="1.25"/><circle cx="481.1" cy="408.0" r="1.25"/><circle cx="483.3" cy="409.1" r="1.25"/><circle cx="497.5" cy="412.1" r="1.25"/></g>
<path d="M498.5,352.2 C497.6,352.6 494.3,353.9 493.2,354.5 C492.1,355.1 492.4,354.6 491.7,356.0 C490.9,357.4 489.5,360.7 488.7,362.8 C487.9,364.9 486.9,367.2 487.1,368.9 C487.4,370.5 489.3,371.8 490.2,372.7 C491.1,373.6 492.2,373.4 492.5,374.2 C492.8,374.9 490.8,376.3 491.7,377.2 C492.6,378.1 495.1,378.7 497.8,379.5 C500.5,380.3 508.9,381.0 507.6,381.8 C506.3,382.6 494.1,383.5 490.2,384.1 C486.3,384.7 484.5,385.1 484.4,385.6 C484.3,386.1 489.1,386.7 489.4,387.1 C489.7,387.6 485.8,387.8 486.4,388.3 C487.0,388.8 493.1,389.5 493.2,390.1 C493.3,390.7 488.5,391.1 487.1,392.0 C485.7,392.9 485.5,393.9 484.9,395.4 C484.3,396.9 483.7,398.9 483.3,400.8 C482.9,402.7 481.9,405.4 482.3,406.8 C482.7,408.2 485.1,408.7 485.6,409.1" fill="none" stroke="#d80000" stroke-width="1.9" stroke-linejoin="round" stroke-linecap="round"/>
</g>
<rect x="479.5" y="342.5" width="65" height="75" fill="none" stroke="#1a1a1a" stroke-width="1.05"/>
<path d="M479.5,350.2h2.1 M479.5,366.9h2.1 M479.5,383.6h2.1 M479.5,400.3h2.1 M479.5,417.0h2.1 M479.5,358.6h1.6 M479.5,375.2h1.6 M479.5,391.9h1.6 M479.5,408.6h1.6 M501.2,417.5v-2.0 M522.8,417.5v-2.0" stroke="#1a1a1a" stroke-width="0.9" fill="none"/>
<g font-size="5.9" text-anchor="middle" fill="#000" stroke="#000" stroke-width="0.12" font-family="'Liberation Sans', Arial, sans-serif"><text x="479.5" y="425.2">0</text><text x="501.2" y="425.2">5</text><text x="522.8" y="425.2">10</text><text x="544.5" y="425.2">15</text></g>
<g font-size="5.9" text-anchor="end" fill="#000" stroke="#000" stroke-width="0.12" font-family="'Liberation Sans', Arial, sans-serif"><text x="29.2" y="352.1">320</text><text x="29.2" y="368.8">300</text><text x="29.2" y="385.5">280</text><text x="29.2" y="402.2">260</text><text x="29.2" y="418.9">240</text></g>
<text x="28.5" y="346.5" font-size="5.9" text-anchor="end" fill="#000" stroke="#000" stroke-width="0.12" font-family="'Liberation Sans', Arial, sans-serif">(m)</text>
<circle cx="7.2" cy="466.5" r="6.6" fill="#fff" stroke="#111" stroke-width="0.95"/>
<text x="7.2" y="470.1" font-size="10" text-anchor="middle" font-family="'Liberation Sans', Arial, sans-serif">4</text>
<line x1="31" y1="456.4" x2="547.0" y2="456.4" stroke="#555" stroke-width="0.7" stroke-dasharray="1,1"/>
<text x="547.8" y="458.6" font-size="5.9" font-weight="bold" fill="#2b3350" font-family="'Liberation Sans', Arial, sans-serif">NRB</text>
<g>
<path d="M73.3,441.6 L68.0,442.0 L78.9,442.4 L72.5,443.1 L66.9,443.5 L80.8,444.3 L74.0,444.6 L59.0,446.1 L71.8,446.5 L75.5,447.6 L67.3,448.8 L71.0,449.1 L76.3,449.9 L81.5,451.0 L66.1,451.0 L69.9,451.4 L72.5,452.1 L74.0,452.1 L68.4,454.0 L63.5,454.8 L72.5,454.8 L77.4,454.8 L60.9,455.1 L69.5,455.1 L65.8,455.5 L75.1,455.5 L44.6,455.9 L67.3,457.0 L76.3,457.0 L69.9,457.4 L73.3,457.4 L55.6,458.5 L59.8,458.5 L75.9,458.5 L80.8,459.6 L74.0,460.0 L67.6,460.4 L58.3,461.5 L81.5,461.9 L72.5,461.9 L74.0,462.6 L77.4,463.4 L72.5,464.1 L85.6,464.5 L82.3,465.6 L59.0,467.5 L60.7,468.1 L70.5,468.1 L71.0,468.3 L80.0,469.4 L58.9,469.9 L81.3,469.9 L64.3,470.2 L75.0,470.6 L59.8,471.1 L71.4,471.1 L84.8,474.3 L77.7,474.7 L87.5,475.0 L75.0,475.6 L85.4,478.3 L66.1,479.5 L88.4,479.5 L78.6,480.6 L60.7,481.3 L53.6,482.7 L76.8,484.1 L68.8,484.5 L72.3,484.9 L70.5,486.3 L75.0,486.6 L78.6,491.6 L76.8,495.6 L79.5,504.1" fill="none" stroke="#3f7fd6" stroke-width="0.90" stroke-linejoin="round"/>
<g fill="#1d5cb8" stroke="#0a1c42" stroke-width="0.68"><circle cx="73.3" cy="441.6" r="1.25"/><circle cx="68.0" cy="442.0" r="1.25"/><circle cx="78.9" cy="442.4" r="1.25"/><circle cx="72.5" cy="443.1" r="1.25"/><circle cx="66.9" cy="443.5" r="1.25"/><circle cx="80.8" cy="444.3" r="1.25"/><circle cx="74.0" cy="444.6" r="1.25"/><circle cx="59.0" cy="446.1" r="1.25"/><circle cx="71.8" cy="446.5" r="1.25"/><circle cx="75.5" cy="447.6" r="1.25"/><circle cx="67.3" cy="448.8" r="1.25"/><circle cx="71.0" cy="449.1" r="1.25"/><circle cx="76.3" cy="449.9" r="1.25"/><circle cx="81.5" cy="451.0" r="1.25"/><circle cx="66.1" cy="451.0" r="1.25"/><circle cx="69.9" cy="451.4" r="1.25"/><circle cx="72.5" cy="452.1" r="1.25"/><circle cx="74.0" cy="452.1" r="1.25"/><circle cx="68.4" cy="454.0" r="1.25"/><circle cx="63.5" cy="454.8" r="1.25"/><circle cx="72.5" cy="454.8" r="1.25"/><circle cx="77.4" cy="454.8" r="1.25"/><circle cx="60.9" cy="455.1" r="1.25"/><circle cx="69.5" cy="455.1" r="1.25"/><circle cx="65.8" cy="455.5" r="1.25"/><circle cx="75.1" cy="455.5" r="1.25"/><circle cx="44.6" cy="455.9" r="1.25"/><circle cx="67.3" cy="457.0" r="1.25"/><circle cx="76.3" cy="457.0" r="1.25"/><circle cx="69.9" cy="457.4" r="1.25"/><circle cx="73.3" cy="457.4" r="1.25"/><circle cx="55.6" cy="458.5" r="1.25"/><circle cx="59.8" cy="458.5" r="1.25"/><circle cx="75.9" cy="458.5" r="1.25"/><circle cx="80.8" cy="459.6" r="1.25"/><circle cx="74.0" cy="460.0" r="1.25"/><circle cx="67.6" cy="460.4" r="1.25"/><circle cx="58.3" cy="461.5" r="1.25"/><circle cx="81.5" cy="461.9" r="1.25"/><circle cx="72.5" cy="461.9" r="1.25"/><circle cx="74.0" cy="462.6" r="1.25"/><circle cx="77.4" cy="463.4" r="1.25"/><circle cx="72.5" cy="464.1" r="1.25"/><circle cx="85.6" cy="464.5" r="1.25"/><circle cx="82.3" cy="465.6" r="1.25"/><circle cx="59.0" cy="467.5" r="1.25"/><circle cx="60.7" cy="468.1" r="1.25"/><circle cx="70.5" cy="468.1" r="1.25"/><circle cx="71.0" cy="468.3" r="1.25"/><circle cx="80.0" cy="469.4" r="1.25"/><circle cx="58.9" cy="469.9" r="1.25"/><circle cx="81.3" cy="469.9" r="1.25"/><circle cx="64.3" cy="470.2" r="1.25"/><circle cx="75.0" cy="470.6" r="1.25"/><circle cx="59.8" cy="471.1" r="1.25"/><circle cx="71.4" cy="471.1" r="1.25"/><circle cx="84.8" cy="474.3" r="1.25"/><circle cx="77.7" cy="474.7" r="1.25"/><circle cx="87.5" cy="475.0" r="1.25"/><circle cx="75.0" cy="475.6" r="1.25"/><circle cx="85.4" cy="478.3" r="1.25"/><circle cx="66.1" cy="479.5" r="1.25"/><circle cx="88.4" cy="479.5" r="1.25"/><circle cx="78.6" cy="480.6" r="1.25"/><circle cx="60.7" cy="481.3" r="1.25"/><circle cx="53.6" cy="482.7" r="1.25"/><circle cx="76.8" cy="484.1" r="1.25"/><circle cx="68.8" cy="484.5" r="1.25"/><circle cx="72.3" cy="484.9" r="1.25"/><circle cx="70.5" cy="486.3" r="1.25"/><circle cx="75.0" cy="486.6" r="1.25"/><circle cx="78.6" cy="491.6" r="1.25"/><circle cx="76.8" cy="495.6" r="1.25"/><circle cx="79.5" cy="504.1" r="1.25"/></g>
</g>
<rect x="31.5" y="429.5" width="65" height="75" fill="none" stroke="#1a1a1a" stroke-width="1.05"/>
<path d="M31.5,439.6h2.1 M31.5,461.1h2.1 M31.5,482.6h2.1 M31.5,504.0h2.1 M31.5,450.4h1.6 M31.5,471.8h1.6 M31.5,493.3h1.6 M44.5,504.5v-2.0 M57.5,504.5v-2.0 M70.5,504.5v-2.0 M83.5,504.5v-2.0" stroke="#1a1a1a" stroke-width="0.9" fill="none"/>
<g font-size="5.9" text-anchor="middle" fill="#000" stroke="#000" stroke-width="0.12" font-family="'Liberation Sans', Arial, sans-serif"><text x="30.7" y="512.2">-32</text><text x="43.7" y="512.2">-30</text><text x="56.7" y="512.2">-28</text><text x="69.7" y="512.2">-26</text><text x="82.7" y="512.2">-24</text><text x="95.7" y="512.2">-22</text></g>
<g>
<path d="M137.4,440.0 L134.3,442.9 L142.9,444.0 L133.1,444.7 L136.9,445.4 L145.7,446.9 L134.3,448.6 L141.4,448.6 L137.9,449.0 L155.7,449.7 L149.3,450.0 L134.3,450.9 L160.0,450.9 L140.0,451.9 L149.3,452.3 L144.3,454.7 L133.6,454.7 L129.3,455.1 L137.4,457.6 L142.1,458.3 L147.1,461.1 L133.1,462.3 L142.1,463.3 L138.3,467.1 L122.9,469.7 L129.3,474.0 L140.0,474.7 L143.6,477.6 L132.9,478.3 L136.9,479.7 L138.9,481.1 L143.6,483.7 L136.4,486.6 L154.0,486.6 L157.1,486.6 L139.3,489.7 L135.0,491.1 L148.6,492.3 L133.1,494.0 L135.7,496.9 L137.4,497.6" fill="none" stroke="#3f7fd6" stroke-width="0.90" stroke-linejoin="round"/>
<g fill="#1d5cb8" stroke="#0a1c42" stroke-width="0.68"><circle cx="137.4" cy="440.0" r="1.25"/><circle cx="134.3" cy="442.9" r="1.25"/><circle cx="142.9" cy="444.0" r="1.25"/><circle cx="133.1" cy="444.7" r="1.25"/><circle cx="136.9" cy="445.4" r="1.25"/><circle cx="145.7" cy="446.9" r="1.25"/><circle cx="134.3" cy="448.6" r="1.25"/><circle cx="141.4" cy="448.6" r="1.25"/><circle cx="137.9" cy="449.0" r="1.25"/><circle cx="155.7" cy="449.7" r="1.25"/><circle cx="149.3" cy="450.0" r="1.25"/><circle cx="134.3" cy="450.9" r="1.25"/><circle cx="160.0" cy="450.9" r="1.25"/><circle cx="140.0" cy="451.9" r="1.25"/><circle cx="149.3" cy="452.3" r="1.25"/><circle cx="144.3" cy="454.7" r="1.25"/><circle cx="133.6" cy="454.7" r="1.25"/><circle cx="129.3" cy="455.1" r="1.25"/><circle cx="137.4" cy="457.6" r="1.25"/><circle cx="142.1" cy="458.3" r="1.25"/><circle cx="147.1" cy="461.1" r="1.25"/><circle cx="133.1" cy="462.3" r="1.25"/><circle cx="142.1" cy="463.3" r="1.25"/><circle cx="138.3" cy="467.1" r="1.25"/><circle cx="122.9" cy="469.7" r="1.25"/><circle cx="129.3" cy="474.0" r="1.25"/><circle cx="140.0" cy="474.7" r="1.25"/><circle cx="143.6" cy="477.6" r="1.25"/><circle cx="132.9" cy="478.3" r="1.25"/><circle cx="136.9" cy="479.7" r="1.25"/><circle cx="138.9" cy="481.1" r="1.25"/><circle cx="143.6" cy="483.7" r="1.25"/><circle cx="136.4" cy="486.6" r="1.25"/><circle cx="154.0" cy="486.6" r="1.25"/><circle cx="157.1" cy="486.6" r="1.25"/><circle cx="139.3" cy="489.7" r="1.25"/><circle cx="135.0" cy="491.1" r="1.25"/><circle cx="148.6" cy="492.3" r="1.25"/><circle cx="133.1" cy="494.0" r="1.25"/><circle cx="135.7" cy="496.9" r="1.25"/><circle cx="137.4" cy="497.6" r="1.25"/></g>
<path d="M136.9,439.7 C137.0,440.4 136.4,442.7 137.4,444.0 C138.4,445.3 141.3,446.7 142.9,447.6 C144.5,448.6 147.3,449.1 147.1,449.7 C146.8,450.3 141.2,450.6 141.4,451.1 C141.7,451.6 150.3,452.0 148.6,452.6 C146.9,453.2 132.3,454.2 131.4,454.7 C130.5,455.2 140.8,455.1 142.9,455.7 C145.1,456.3 144.6,457.1 144.3,458.3 C144.1,459.5 142.5,461.3 141.4,462.6 C140.3,463.9 139.7,465.1 137.9,466.1 C136.1,467.1 132.0,467.5 130.7,468.6 C129.4,469.7 129.3,471.4 130.0,472.6 C130.7,473.9 133.7,475.2 135.0,476.1 C136.3,477.1 137.8,477.6 137.9,478.3 C138.0,479.0 135.5,479.5 135.4,480.4 C135.3,481.3 136.2,482.9 137.4,483.7 C138.7,484.5 140.7,484.9 142.9,485.4 C145.1,485.9 151.1,486.0 150.7,486.6 C150.3,487.2 142.8,488.1 140.7,489.0 C138.6,489.9 139.0,491.2 137.9,491.9 C136.8,492.6 134.8,492.5 134.3,493.3 C133.8,494.1 134.9,496.3 135.0,496.9" fill="none" stroke="#d80000" stroke-width="1.9" stroke-linejoin="round" stroke-linecap="round"/>
</g>
<rect x="105.5" y="429.5" width="67" height="75" fill="none" stroke="#1a1a1a" stroke-width="1.05"/>
<path d="M105.5,439.6h2.1 M105.5,461.1h2.1 M105.5,482.6h2.1 M105.5,504.0h2.1 M105.5,450.4h1.6 M105.5,471.8h1.6 M105.5,493.3h1.6 M118.9,504.5v-2.0 M132.3,504.5v-2.0 M145.7,504.5v-2.0 M159.1,504.5v-2.0" stroke="#1a1a1a" stroke-width="0.9" fill="none"/>
<g font-size="5.9" text-anchor="middle" fill="#000" stroke="#000" stroke-width="0.12" font-family="'Liberation Sans', Arial, sans-serif"><text x="105.5" y="512.2">0</text><text x="117.6" y="512.2">0.2</text><text x="131.0" y="512.2">0.4</text><text x="144.4" y="512.2">0.6</text><text x="157.8" y="512.2">0.8</text><text x="171.2" y="512.2">1.0</text></g>
<g>
<path d="M183.6,439.7 L200.4,440.0 L184.3,443.3 L189.3,444.0 L182.9,446.1 L188.6,446.6 L209.3,447.1 L222.9,447.1 L185.0,448.3 L192.1,448.3 L205.0,449.0 L187.9,450.4 L236.4,450.4 L211.4,451.9 L224.3,451.9 L234.3,452.3 L183.6,452.6 L190.7,454.0 L183.6,455.4 L194.3,456.6 L192.1,457.6 L185.0,459.0 L182.1,461.1 L209.0,461.1 L193.6,462.3 L187.9,463.3 L182.9,466.9 L195.7,467.6 L183.6,473.3 L199.6,474.3 L193.6,474.7 L185.0,477.6 L195.7,478.3 L194.3,480.4 L196.4,481.1 L184.3,483.7 L200.0,483.7 L192.9,484.7 L187.9,486.6 L188.6,490.4 L190.0,492.3 L188.1,494.0 L190.4,496.1 L189.3,498.0" fill="none" stroke="#3f7fd6" stroke-width="0.90" stroke-linejoin="round"/>
<g fill="#1d5cb8" stroke="#0a1c42" stroke-width="0.68"><circle cx="183.6" cy="439.7" r="1.25"/><circle cx="200.4" cy="440.0" r="1.25"/><circle cx="184.3" cy="443.3" r="1.25"/><circle cx="189.3" cy="444.0" r="1.25"/><circle cx="182.9" cy="446.1" r="1.25"/><circle cx="188.6" cy="446.6" r="1.25"/><circle cx="209.3" cy="447.1" r="1.25"/><circle cx="222.9" cy="447.1" r="1.25"/><circle cx="185.0" cy="448.3" r="1.25"/><circle cx="192.1" cy="448.3" r="1.25"/><circle cx="205.0" cy="449.0" r="1.25"/><circle cx="187.9" cy="450.4" r="1.25"/><circle cx="236.4" cy="450.4" r="1.25"/><circle cx="211.4" cy="451.9" r="1.25"/><circle cx="224.3" cy="451.9" r="1.25"/><circle cx="234.3" cy="452.3" r="1.25"/><circle cx="183.6" cy="452.6" r="1.25"/><circle cx="190.7" cy="454.0" r="1.25"/><circle cx="183.6" cy="455.4" r="1.25"/><circle cx="194.3" cy="456.6" r="1.25"/><circle cx="192.1" cy="457.6" r="1.25"/><circle cx="185.0" cy="459.0" r="1.25"/><circle cx="182.1" cy="461.1" r="1.25"/><circle cx="209.0" cy="461.1" r="1.25"/><circle cx="193.6" cy="462.3" r="1.25"/><circle cx="187.9" cy="463.3" r="1.25"/><circle cx="182.9" cy="466.9" r="1.25"/><circle cx="195.7" cy="467.6" r="1.25"/><circle cx="183.6" cy="473.3" r="1.25"/><circle cx="199.6" cy="474.3" r="1.25"/><circle cx="193.6" cy="474.7" r="1.25"/><circle cx="185.0" cy="477.6" r="1.25"/><circle cx="195.7" cy="478.3" r="1.25"/><circle cx="194.3" cy="480.4" r="1.25"/><circle cx="196.4" cy="481.1" r="1.25"/><circle cx="184.3" cy="483.7" r="1.25"/><circle cx="200.0" cy="483.7" r="1.25"/><circle cx="192.9" cy="484.7" r="1.25"/><circle cx="187.9" cy="486.6" r="1.25"/><circle cx="188.6" cy="490.4" r="1.25"/><circle cx="190.0" cy="492.3" r="1.25"/><circle cx="188.1" cy="494.0" r="1.25"/><circle cx="190.4" cy="496.1" r="1.25"/><circle cx="189.3" cy="498.0" r="1.25"/></g>
<path d="M192.1,439.7 C191.2,440.2 186.4,441.9 186.4,442.6 C186.4,443.3 190.7,443.5 192.1,444.0 C193.5,444.5 192.4,444.9 195.0,445.4 C197.6,445.9 208.8,446.3 207.9,446.9 C207.0,447.5 190.0,448.5 189.3,449.0 C188.6,449.5 196.0,449.4 203.6,449.7 C211.2,450.0 237.4,450.5 235.0,450.9 C232.6,451.3 196.8,451.3 189.3,451.9 C181.8,452.5 190.2,453.8 190.0,454.7 C189.8,455.6 187.1,456.5 187.9,457.6 C188.7,458.7 195.2,460.2 195.0,461.1 C194.8,462.1 186.9,462.6 186.4,463.3 C185.9,464.0 192.6,464.4 192.1,465.4 C191.6,466.3 184.5,467.9 183.6,469.0 C182.7,470.1 184.7,470.9 186.4,471.9 C188.1,472.8 193.1,473.9 193.6,474.7 C194.1,475.5 189.3,476.1 189.3,476.9 C189.3,477.7 193.1,478.5 193.6,479.7 C194.1,480.9 192.9,482.9 192.1,484.0 C191.3,485.1 189.1,484.9 188.6,486.1 C188.1,487.3 189.1,489.3 189.3,491.1 C189.5,492.9 189.9,495.9 190.0,496.9" fill="none" stroke="#d80000" stroke-width="1.9" stroke-linejoin="round" stroke-linecap="round"/>
</g>
<rect x="181.5" y="429.5" width="65" height="75" fill="none" stroke="#1a1a1a" stroke-width="1.05"/>
<path d="M181.5,439.6h2.1 M181.5,461.1h2.1 M181.5,482.6h2.1 M181.5,504.0h2.1 M181.5,450.4h1.6 M181.5,471.8h1.6 M181.5,493.3h1.6 M197.8,504.5v-2.0 M214.0,504.5v-2.0 M230.2,504.5v-2.0" stroke="#1a1a1a" stroke-width="0.9" fill="none"/>
<g font-size="5.9" text-anchor="middle" fill="#000" stroke="#000" stroke-width="0.12" font-family="'Liberation Sans', Arial, sans-serif"><text x="181.5" y="512.2">0</text><text x="197.8" y="512.2">5</text><text x="214.0" y="512.2">10</text><text x="230.2" y="512.2">15</text><text x="246.5" y="512.2">20</text></g>
<g>
<path d="M269.3,439.4 L279.3,439.7 L263.1,442.9 L270.7,443.3 L264.3,445.1 L267.1,446.9 L297.1,447.1 L280.0,447.6 L292.1,448.6 L265.7,449.4 L317.1,450.4 L271.4,450.9 L307.1,450.9 L299.3,451.4 L280.7,451.9 L260.7,453.3 L264.3,454.3 L257.9,456.1 L262.1,457.1 L272.9,459.0 L291.4,461.1 L258.6,461.4 L261.4,462.6 L270.0,467.1 L261.4,467.6 L271.4,468.6 L256.4,473.3 L262.9,474.3 L284.3,474.3 L261.4,476.9 L275.0,478.6 L269.3,479.7 L273.6,481.9 L264.3,483.3 L272.9,484.0 L264.3,486.6 L260.3,489.7 L260.7,492.3 L260.0,494.7 L261.7,497.1 L265.4,497.6" fill="none" stroke="#3f7fd6" stroke-width="0.90" stroke-linejoin="round"/>
<g fill="#1d5cb8" stroke="#0a1c42" stroke-width="0.68"><circle cx="269.3" cy="439.4" r="1.25"/><circle cx="279.3" cy="439.7" r="1.25"/><circle cx="263.1" cy="442.9" r="1.25"/><circle cx="270.7" cy="443.3" r="1.25"/><circle cx="264.3" cy="445.1" r="1.25"/><circle cx="267.1" cy="446.9" r="1.25"/><circle cx="297.1" cy="447.1" r="1.25"/><circle cx="280.0" cy="447.6" r="1.25"/><circle cx="292.1" cy="448.6" r="1.25"/><circle cx="265.7" cy="449.4" r="1.25"/><circle cx="317.1" cy="450.4" r="1.25"/><circle cx="271.4" cy="450.9" r="1.25"/><circle cx="307.1" cy="450.9" r="1.25"/><circle cx="299.3" cy="451.4" r="1.25"/><circle cx="280.7" cy="451.9" r="1.25"/><circle cx="260.7" cy="453.3" r="1.25"/><circle cx="264.3" cy="454.3" r="1.25"/><circle cx="257.9" cy="456.1" r="1.25"/><circle cx="262.1" cy="457.1" r="1.25"/><circle cx="272.9" cy="459.0" r="1.25"/><circle cx="291.4" cy="461.1" r="1.25"/><circle cx="258.6" cy="461.4" r="1.25"/><circle cx="261.4" cy="462.6" r="1.25"/><circle cx="270.0" cy="467.1" r="1.25"/><circle cx="261.4" cy="467.6" r="1.25"/><circle cx="271.4" cy="468.6" r="1.25"/><circle cx="256.4" cy="473.3" r="1.25"/><circle cx="262.9" cy="474.3" r="1.25"/><circle cx="284.3" cy="474.3" r="1.25"/><circle cx="261.4" cy="476.9" r="1.25"/><circle cx="275.0" cy="478.6" r="1.25"/><circle cx="269.3" cy="479.7" r="1.25"/><circle cx="273.6" cy="481.9" r="1.25"/><circle cx="264.3" cy="483.3" r="1.25"/><circle cx="272.9" cy="484.0" r="1.25"/><circle cx="264.3" cy="486.6" r="1.25"/><circle cx="260.3" cy="489.7" r="1.25"/><circle cx="260.7" cy="492.3" r="1.25"/><circle cx="260.0" cy="494.7" r="1.25"/><circle cx="261.7" cy="497.1" r="1.25"/><circle cx="265.4" cy="497.6" r="1.25"/></g>
<path d="M270.0,440.0 C269.2,440.7 264.8,443.1 265.0,444.0 C265.2,444.9 268.9,444.9 271.4,445.4 C273.9,445.9 280.7,446.4 280.0,446.9 C279.3,447.4 268.3,447.8 267.1,448.3 C265.9,448.8 264.6,449.6 272.9,450.0 C281.2,450.4 317.8,450.7 317.1,450.9 C316.4,451.1 277.6,451.1 268.6,451.4 C259.6,451.7 264.1,451.9 262.9,452.6 C261.7,453.3 261.4,454.3 261.4,455.4 C261.4,456.5 260.8,458.1 262.9,459.0 C265.0,459.9 274.8,460.4 274.3,460.9 C273.8,461.4 262.1,461.1 260.0,461.9 C257.9,462.6 260.2,464.6 261.4,465.4 C262.6,466.2 267.2,466.2 267.1,466.9 C267.0,467.6 260.0,468.6 260.7,469.7 C261.4,470.8 271.0,472.1 271.4,473.3 C271.8,474.5 263.6,476.0 262.9,476.6 C262.2,477.2 265.4,476.6 267.1,477.1 C268.8,477.6 272.9,478.6 272.9,479.7 C272.9,480.8 268.7,482.8 267.1,484.0 C265.6,485.2 264.7,485.7 263.6,486.9 C262.5,488.1 261.2,489.7 260.7,491.1 C260.2,492.5 260.5,494.3 260.7,495.4 C260.9,496.5 261.9,497.2 262.1,497.6" fill="none" stroke="#d80000" stroke-width="1.9" stroke-linejoin="round" stroke-linecap="round"/>
</g>
<rect x="255.5" y="429.5" width="65" height="75" fill="none" stroke="#1a1a1a" stroke-width="1.05"/>
<path d="M255.5,439.6h2.1 M255.5,461.1h2.1 M255.5,482.6h2.1 M255.5,504.0h2.1 M255.5,450.4h1.6 M255.5,471.8h1.6 M255.5,493.3h1.6 M271.8,504.5v-2.0 M288.0,504.5v-2.0 M304.2,504.5v-2.0" stroke="#1a1a1a" stroke-width="0.9" fill="none"/>
<g font-size="5.9" text-anchor="middle" fill="#000" stroke="#000" stroke-width="0.12" font-family="'Liberation Sans', Arial, sans-serif"><text x="255.5" y="512.2">0</text><text x="271.8" y="512.2">2</text><text x="288.0" y="512.2">4</text><text x="304.2" y="512.2">6</text><text x="320.5" y="512.2">8</text></g>
<g>
<path d="M334.3,440.0 L333.6,442.9 L339.3,444.0 L345.0,445.7 L332.9,447.1 L342.1,447.6 L350.7,448.0 L336.4,449.7 L331.0,451.4 L331.0,453.3 L330.7,455.7 L391.4,458.3 L338.6,459.0 L331.0,460.9 L331.9,462.3 L335.0,467.6 L336.4,468.6 L331.9,473.3 L336.1,477.1 L337.1,483.7" fill="none" stroke="#3f7fd6" stroke-width="0.90" stroke-linejoin="round"/>
<g fill="#1d5cb8" stroke="#0a1c42" stroke-width="0.68"><circle cx="334.3" cy="440.0" r="1.25"/><circle cx="333.6" cy="442.9" r="1.25"/><circle cx="339.3" cy="444.0" r="1.25"/><circle cx="345.0" cy="445.7" r="1.25"/><circle cx="332.9" cy="447.1" r="1.25"/><circle cx="342.1" cy="447.6" r="1.25"/><circle cx="350.7" cy="448.0" r="1.25"/><circle cx="336.4" cy="449.7" r="1.25"/><circle cx="331.0" cy="451.4" r="1.25"/><circle cx="331.0" cy="453.3" r="1.25"/><circle cx="330.7" cy="455.7" r="1.25"/><circle cx="391.4" cy="458.3" r="1.25"/><circle cx="338.6" cy="459.0" r="1.25"/><circle cx="331.0" cy="460.9" r="1.25"/><circle cx="331.9" cy="462.3" r="1.25"/><circle cx="335.0" cy="467.6" r="1.25"/><circle cx="336.4" cy="468.6" r="1.25"/><circle cx="331.9" cy="473.3" r="1.25"/><circle cx="336.1" cy="477.1" r="1.25"/><circle cx="337.1" cy="483.7" r="1.25"/></g>
<path d="M334.3,442.6 C335.0,442.8 337.8,443.4 338.6,444.0 C339.4,444.6 338.6,445.6 339.3,446.1 C340.0,446.6 343.1,446.5 342.9,446.9 C342.7,447.3 339.3,447.6 337.9,448.3 C336.5,449.0 335.4,450.1 334.3,451.1 C333.2,452.1 331.0,453.6 331.4,454.3 C331.8,455.0 333.2,454.9 336.4,455.1 C339.6,455.3 347.7,455.3 350.7,455.7 C353.7,456.1 354.3,457.1 354.3,457.6 C354.3,458.2 354.1,458.5 350.7,459.0 C347.2,459.5 336.6,459.9 333.6,460.4 C330.6,460.9 332.8,460.8 332.9,461.9 C333.0,463.0 333.9,465.4 334.3,466.9 C334.7,468.4 334.9,469.3 335.0,471.1 C335.1,472.9 334.8,476.5 334.7,477.6" fill="none" stroke="#d80000" stroke-width="1.9" stroke-linejoin="round" stroke-linecap="round"/>
</g>
<rect x="330.5" y="429.5" width="65" height="75" fill="none" stroke="#1a1a1a" stroke-width="1.05"/>
<path d="M330.5,439.6h2.1 M330.5,461.1h2.1 M330.5,482.6h2.1 M330.5,504.0h2.1 M330.5,450.4h1.6 M330.5,471.8h1.6 M330.5,493.3h1.6 M352.2,504.5v-2.0 M373.8,504.5v-2.0" stroke="#1a1a1a" stroke-width="0.9" fill="none"/>
<g font-size="5.9" text-anchor="middle" fill="#000" stroke="#000" stroke-width="0.12" font-family="'Liberation Sans', Arial, sans-serif"><text x="330.5" y="512.2">0</text><text x="352.2" y="512.2">10</text><text x="373.8" y="512.2">20</text><text x="395.5" y="512.2">30</text></g>
<g>
<path d="M419.3,439.7 L422.1,442.9 L426.0,443.3 L417.9,445.4 L421.4,447.1 L452.1,447.6 L433.1,450.0 L463.6,450.9 L438.9,451.9 L413.6,452.3 L411.4,456.1 L429.3,458.0 L416.9,459.0 L407.1,460.9 L406.0,462.3 L413.6,467.6 L415.0,468.6 L405.7,473.3 L415.4,477.1 L426.0,483.7" fill="none" stroke="#3f7fd6" stroke-width="0.90" stroke-linejoin="round"/>
<g fill="#1d5cb8" stroke="#0a1c42" stroke-width="0.68"><circle cx="419.3" cy="439.7" r="1.25"/><circle cx="422.1" cy="442.9" r="1.25"/><circle cx="426.0" cy="443.3" r="1.25"/><circle cx="417.9" cy="445.4" r="1.25"/><circle cx="421.4" cy="447.1" r="1.25"/><circle cx="452.1" cy="447.6" r="1.25"/><circle cx="433.1" cy="450.0" r="1.25"/><circle cx="463.6" cy="450.9" r="1.25"/><circle cx="438.9" cy="451.9" r="1.25"/><circle cx="413.6" cy="452.3" r="1.25"/><circle cx="411.4" cy="456.1" r="1.25"/><circle cx="429.3" cy="458.0" r="1.25"/><circle cx="416.9" cy="459.0" r="1.25"/><circle cx="407.1" cy="460.9" r="1.25"/><circle cx="406.0" cy="462.3" r="1.25"/><circle cx="413.6" cy="467.6" r="1.25"/><circle cx="415.0" cy="468.6" r="1.25"/><circle cx="405.7" cy="473.3" r="1.25"/><circle cx="415.4" cy="477.1" r="1.25"/><circle cx="426.0" cy="483.7" r="1.25"/></g>
<path d="M422.1,444.0 C422.2,444.4 420.6,445.9 422.9,446.6 C425.2,447.3 431.2,447.7 435.7,448.3 C440.2,448.9 451.2,449.4 450.0,450.0 C448.8,450.6 434.6,451.3 428.6,451.9 C422.7,452.4 417.1,452.8 414.3,453.3 C411.6,453.8 411.6,454.2 412.1,454.7 C412.6,455.2 415.9,455.6 417.1,456.1 C418.3,456.7 419.5,457.4 419.3,458.0 C419.1,458.6 417.7,459.2 415.7,459.7 C413.7,460.2 408.6,460.6 407.1,461.1 C405.6,461.6 406.4,461.6 406.9,462.6 C407.4,463.6 409.3,465.3 410.0,466.9 C410.7,468.4 410.5,470.4 411.1,471.9 C411.7,473.4 412.8,475.2 413.6,476.1 C414.4,477.0 415.4,476.9 415.7,477.1" fill="none" stroke="#d80000" stroke-width="1.9" stroke-linejoin="round" stroke-linecap="round"/>
</g>
<rect x="404.5" y="429.5" width="65" height="75" fill="none" stroke="#1a1a1a" stroke-width="1.05"/>
<path d="M404.5,439.6h2.1 M404.5,461.1h2.1 M404.5,482.6h2.1 M404.5,504.0h2.1 M404.5,450.4h1.6 M404.5,471.8h1.6 M404.5,493.3h1.6 M426.2,504.5v-2.0 M447.8,504.5v-2.0" stroke="#1a1a1a" stroke-width="0.9" fill="none"/>
<g font-size="5.9" text-anchor="middle" fill="#000" stroke="#000" stroke-width="0.12" font-family="'Liberation Sans', Arial, sans-serif"><text x="404.5" y="512.2">0</text><text x="426.2" y="512.2">10</text><text x="447.8" y="512.2">20</text><text x="469.5" y="512.2">30</text></g>
<g>
<path d="M494.4,439.9 L497.0,443.0 L503.1,443.4 L483.3,445.3 L489.4,447.5 L506.9,447.5 L500.5,449.8 L525.8,451.3 L502.3,452.1 L496.3,454.4 L513.7,455.9 L481.4,458.2 L485.3,460.1 L481.4,462.3 L487.1,468.0 L483.8,473.3 L487.4,476.8" fill="none" stroke="#3f7fd6" stroke-width="0.90" stroke-linejoin="round"/>
<g fill="#1d5cb8" stroke="#0a1c42" stroke-width="0.68"><circle cx="494.4" cy="439.9" r="1.25"/><circle cx="497.0" cy="443.0" r="1.25"/><circle cx="503.1" cy="443.4" r="1.25"/><circle cx="483.3" cy="445.3" r="1.25"/><circle cx="489.4" cy="447.5" r="1.25"/><circle cx="506.9" cy="447.5" r="1.25"/><circle cx="500.5" cy="449.8" r="1.25"/><circle cx="525.8" cy="451.3" r="1.25"/><circle cx="502.3" cy="452.1" r="1.25"/><circle cx="496.3" cy="454.4" r="1.25"/><circle cx="513.7" cy="455.9" r="1.25"/><circle cx="481.4" cy="458.2" r="1.25"/><circle cx="485.3" cy="460.1" r="1.25"/><circle cx="481.4" cy="462.3" r="1.25"/><circle cx="487.1" cy="468.0" r="1.25"/><circle cx="483.8" cy="473.3" r="1.25"/><circle cx="487.4" cy="476.8" r="1.25"/></g>
<path d="M494.7,443.7 C495.2,443.6 498.1,442.9 497.8,443.4 C497.6,443.9 492.9,446.0 493.2,446.8 C493.4,447.6 495.9,447.6 499.3,448.3 C502.7,449.1 513.2,450.4 513.7,451.3 C514.2,452.2 505.7,452.5 502.3,453.6 C498.9,454.7 496.2,456.7 493.2,457.7 C490.2,458.7 485.8,458.6 484.4,459.7 C483.0,460.8 484.6,462.6 484.9,464.2 C485.2,465.8 486.1,467.4 486.4,469.5 C486.6,471.6 486.4,475.8 486.4,477.1" fill="none" stroke="#d80000" stroke-width="1.9" stroke-linejoin="round" stroke-linecap="round"/>
</g>
<rect x="479.5" y="429.5" width="65" height="75" fill="none" stroke="#1a1a1a" stroke-width="1.05"/>
<path d="M479.5,439.6h2.1 M479.5,461.1h2.1 M479.5,482.6h2.1 M479.5,504.0h2.1 M479.5,450.4h1.6 M479.5,471.8h1.6 M479.5,493.3h1.6 M501.2,504.5v-2.0 M522.8,504.5v-2.0" stroke="#1a1a1a" stroke-width="0.9" fill="none"/>
<g font-size="5.9" text-anchor="middle" fill="#000" stroke="#000" stroke-width="0.12" font-family="'Liberation Sans', Arial, sans-serif"><text x="479.5" y="512.2">0</text><text x="501.2" y="512.2">5</text><text x="522.8" y="512.2">10</text><text x="544.5" y="512.2">15</text></g>
<g font-size="5.9" text-anchor="end" fill="#000" stroke="#000" stroke-width="0.12" font-family="'Liberation Sans', Arial, sans-serif"><text x="29.2" y="441.5">60</text><text x="29.2" y="463.0">40</text><text x="29.2" y="484.4">20</text><text x="29.2" y="505.9">0</text></g>
<text x="28.5" y="433.5" font-size="5.9" text-anchor="end" fill="#000" stroke="#000" stroke-width="0.12" font-family="'Liberation Sans', Arial, sans-serif">(m)</text>
<circle cx="7.2" cy="552.5" r="6.6" fill="#fff" stroke="#111" stroke-width="0.95"/>
<text x="7.2" y="556.1" font-size="10" text-anchor="middle" font-family="'Liberation Sans', Arial, sans-serif">5</text>
<line x1="31" y1="526.4" x2="398.0" y2="526.4" stroke="#555" stroke-width="0.7" stroke-dasharray="1,1"/>
<text x="397.2" y="528.9" font-size="5.9" font-weight="bold" fill="#2b3350" font-family="'Liberation Sans', Arial, sans-serif">NRB</text>
<g>
<path d="M62.1,520.9 L43.2,522.6 L78.6,524.1 L55.4,524.4 L72.3,525.5 L51.8,525.9 L60.7,525.9 L65.2,525.9 L57.1,526.8 L63.4,526.8 L67.0,526.8 L52.7,527.6 L58.6,529.1 L86.1,529.1 L53.6,529.4 L64.3,529.4 L56.8,530.3 L57.1,532.1 L56.3,533.4 L58.0,536.9 L62.5,538.7 L55.4,539.8 L63.9,540.1 L42.9,541.9 L58.0,542.8 L38.4,544.1 L48.2,550.9 L61.6,551.8 L57.1,552.3 L47.9,554.1 L55.7,554.8 L55.4,555.9 L52.1,561.2 L56.3,561.6 L62.5,563.0 L51.8,570.9 L58.0,575.0 L52.1,575.3 L46.4,575.5 L62.1,585.1" fill="none" stroke="#3c67a8" stroke-width="0.80" stroke-linejoin="round"/>
<g fill="#1f4480" stroke="#0a1a36" stroke-width="0.68"><circle cx="62.1" cy="520.9" r="1.25"/><circle cx="43.2" cy="522.6" r="1.25"/><circle cx="78.6" cy="524.1" r="1.25"/><circle cx="55.4" cy="524.4" r="1.25"/><circle cx="72.3" cy="525.5" r="1.25"/><circle cx="51.8" cy="525.9" r="1.25"/><circle cx="60.7" cy="525.9" r="1.25"/><circle cx="65.2" cy="525.9" r="1.25"/><circle cx="57.1" cy="526.8" r="1.25"/><circle cx="63.4" cy="526.8" r="1.25"/><circle cx="67.0" cy="526.8" r="1.25"/><circle cx="52.7" cy="527.6" r="1.25"/><circle cx="58.6" cy="529.1" r="1.25"/><circle cx="86.1" cy="529.1" r="1.25"/><circle cx="53.6" cy="529.4" r="1.25"/><circle cx="64.3" cy="529.4" r="1.25"/><circle cx="56.8" cy="530.3" r="1.25"/><circle cx="57.1" cy="532.1" r="1.25"/><circle cx="56.3" cy="533.4" r="1.25"/><circle cx="58.0" cy="536.9" r="1.25"/><circle cx="62.5" cy="538.7" r="1.25"/><circle cx="55.4" cy="539.8" r="1.25"/><circle cx="63.9" cy="540.1" r="1.25"/><circle cx="42.9" cy="541.9" r="1.25"/><circle cx="58.0" cy="542.8" r="1.25"/><circle cx="38.4" cy="544.1" r="1.25"/><circle cx="48.2" cy="550.9" r="1.25"/><circle cx="61.6" cy="551.8" r="1.25"/><circle cx="57.1" cy="552.3" r="1.25"/><circle cx="47.9" cy="554.1" r="1.25"/><circle cx="55.7" cy="554.8" r="1.25"/><circle cx="55.4" cy="555.9" r="1.25"/><circle cx="52.1" cy="561.2" r="1.25"/><circle cx="56.3" cy="561.6" r="1.25"/><circle cx="62.5" cy="563.0" r="1.25"/><circle cx="51.8" cy="570.9" r="1.25"/><circle cx="58.0" cy="575.0" r="1.25"/><circle cx="52.1" cy="575.3" r="1.25"/><circle cx="46.4" cy="575.5" r="1.25"/><circle cx="62.1" cy="585.1" r="1.25"/></g>
</g>
<rect x="31.5" y="515.5" width="65" height="75" fill="none" stroke="#1a1a1a" stroke-width="1.05"/>
<path d="M31.5,524.8h2.1 M31.5,543.5h2.1 M31.5,562.1h2.1 M31.5,580.7h2.1 M31.5,534.1h1.6 M31.5,552.8h1.6 M31.5,571.4h1.6 M44.5,590.5v-2.0 M57.5,590.5v-2.0 M70.5,590.5v-2.0 M83.5,590.5v-2.0" stroke="#1a1a1a" stroke-width="0.9" fill="none"/>
<g font-size="5.9" text-anchor="middle" fill="#000" stroke="#000" stroke-width="0.12" font-family="'Liberation Sans', Arial, sans-serif"><text x="30.7" y="598.2">-27</text><text x="43.7" y="598.2">-26</text><text x="56.7" y="598.2">-25</text><text x="69.7" y="598.2">-24</text><text x="82.7" y="598.2">-23</text><text x="95.7" y="598.2">-22</text></g>
<g>
<path d="M136.0,520.3 L129.7,521.1 L162.1,523.1 L158.6,524.0 L135.4,524.3 L127.1,524.6 L131.7,525.0 L165.4,525.7 L150.7,526.4 L127.1,528.6 L137.9,528.6 L131.4,529.3 L141.7,530.0 L130.3,532.6 L137.9,537.4 L124.6,537.9 L138.6,540.0 L132.6,540.0 L133.6,541.7 L132.6,551.7 L140.3,552.1 L135.0,554.3 L136.4,561.7 L123.6,566.0 L131.4,567.4 L128.6,568.6 L127.9,571.7 L133.6,571.7 L128.3,575.4 L134.3,575.4 L132.6,576.0 L126.9,584.6" fill="none" stroke="#3c67a8" stroke-width="0.80" stroke-linejoin="round"/>
<g fill="#1f4480" stroke="#0a1a36" stroke-width="0.68"><circle cx="136.0" cy="520.3" r="1.25"/><circle cx="129.7" cy="521.1" r="1.25"/><circle cx="162.1" cy="523.1" r="1.25"/><circle cx="158.6" cy="524.0" r="1.25"/><circle cx="135.4" cy="524.3" r="1.25"/><circle cx="127.1" cy="524.6" r="1.25"/><circle cx="131.7" cy="525.0" r="1.25"/><circle cx="165.4" cy="525.7" r="1.25"/><circle cx="150.7" cy="526.4" r="1.25"/><circle cx="127.1" cy="528.6" r="1.25"/><circle cx="137.9" cy="528.6" r="1.25"/><circle cx="131.4" cy="529.3" r="1.25"/><circle cx="141.7" cy="530.0" r="1.25"/><circle cx="130.3" cy="532.6" r="1.25"/><circle cx="137.9" cy="537.4" r="1.25"/><circle cx="124.6" cy="537.9" r="1.25"/><circle cx="138.6" cy="540.0" r="1.25"/><circle cx="132.6" cy="540.0" r="1.25"/><circle cx="133.6" cy="541.7" r="1.25"/><circle cx="132.6" cy="551.7" r="1.25"/><circle cx="140.3" cy="552.1" r="1.25"/><circle cx="135.0" cy="554.3" r="1.25"/><circle cx="136.4" cy="561.7" r="1.25"/><circle cx="123.6" cy="566.0" r="1.25"/><circle cx="131.4" cy="567.4" r="1.25"/><circle cx="128.6" cy="568.6" r="1.25"/><circle cx="127.9" cy="571.7" r="1.25"/><circle cx="133.6" cy="571.7" r="1.25"/><circle cx="128.3" cy="575.4" r="1.25"/><circle cx="134.3" cy="575.4" r="1.25"/><circle cx="132.6" cy="576.0" r="1.25"/><circle cx="126.9" cy="584.6" r="1.25"/></g>
<path d="M134.3,522.1 C138.1,522.4 156.9,523.2 157.1,523.6 C157.3,524.0 135.8,524.3 135.7,524.6 C135.6,524.9 156.6,525.2 156.4,525.4 C156.2,525.6 135.6,525.8 134.3,526.0 C133.0,526.2 148.4,526.1 148.6,526.4 C148.8,526.7 138.3,527.4 135.7,527.9 C133.1,528.4 134.0,528.5 132.9,529.3 C131.8,530.1 129.9,531.8 129.3,532.9 C128.7,534.0 128.6,534.6 129.3,535.7 C130.0,536.8 133.0,538.2 133.6,539.3 C134.2,540.4 133.1,540.1 133.1,542.1 C133.1,544.1 132.9,549.5 133.6,551.4 C134.3,553.3 136.8,552.6 137.1,553.6 C137.4,554.6 135.8,555.7 135.7,557.1 C135.6,558.5 136.9,561.0 136.4,562.1 C135.9,563.2 134.2,563.4 132.9,564.0 C131.6,564.6 129.2,565.0 128.6,566.0 C128.0,567.0 128.7,568.9 129.3,570.0 C129.9,571.1 131.9,572.1 132.1,572.9 C132.3,573.7 130.4,574.5 130.7,575.0 C130.9,575.5 133.1,575.8 133.6,576.0" fill="none" stroke="#d80000" stroke-width="1.9" stroke-linejoin="round" stroke-linecap="round"/>
</g>
<rect x="105.5" y="515.5" width="67" height="75" fill="none" stroke="#1a1a1a" stroke-width="1.05"/>
<path d="M105.5,524.8h2.1 M105.5,543.5h2.1 M105.5,562.1h2.1 M105.5,580.7h2.1 M105.5,534.1h1.6 M105.5,552.8h1.6 M105.5,571.4h1.6 M122.2,590.5v-2.0 M139.0,590.5v-2.0 M155.8,590.5v-2.0" stroke="#1a1a1a" stroke-width="0.9" fill="none"/>
<g font-size="5.9" text-anchor="middle" fill="#000" stroke="#000" stroke-width="0.12" font-family="'Liberation Sans', Arial, sans-serif"><text x="105.5" y="598.2">0</text><text x="121.0" y="598.2">0.2</text><text x="137.7" y="598.2">0.4</text><text x="154.4" y="598.2">0.6</text><text x="171.2" y="598.2">0.8</text></g>
<g>
<path d="M189.6,520.7 L192.4,521.7 L199.3,523.1 L188.6,524.3 L208.6,526.0 L190.7,526.0 L187.9,527.9 L203.3,529.7 L191.9,532.1 L189.3,539.3 L188.6,542.9 L190.4,552.6 L189.3,562.1 L187.6,566.4 L186.1,572.1 L189.3,572.1 L187.1,575.7 L190.4,576.0 L188.6,584.6" fill="none" stroke="#3c67a8" stroke-width="0.80" stroke-linejoin="round"/>
<g fill="#1f4480" stroke="#0a1a36" stroke-width="0.68"><circle cx="189.6" cy="520.7" r="1.25"/><circle cx="192.4" cy="521.7" r="1.25"/><circle cx="199.3" cy="523.1" r="1.25"/><circle cx="188.6" cy="524.3" r="1.25"/><circle cx="208.6" cy="526.0" r="1.25"/><circle cx="190.7" cy="526.0" r="1.25"/><circle cx="187.9" cy="527.9" r="1.25"/><circle cx="203.3" cy="529.7" r="1.25"/><circle cx="191.9" cy="532.1" r="1.25"/><circle cx="189.3" cy="539.3" r="1.25"/><circle cx="188.6" cy="542.9" r="1.25"/><circle cx="190.4" cy="552.6" r="1.25"/><circle cx="189.3" cy="562.1" r="1.25"/><circle cx="187.6" cy="566.4" r="1.25"/><circle cx="186.1" cy="572.1" r="1.25"/><circle cx="189.3" cy="572.1" r="1.25"/><circle cx="187.1" cy="575.7" r="1.25"/><circle cx="190.4" cy="576.0" r="1.25"/><circle cx="188.6" cy="584.6" r="1.25"/></g>
<path d="M190.7,522.1 C191.2,522.3 193.8,522.7 193.6,523.1 C193.4,523.5 188.7,523.9 189.3,524.3 C189.9,524.7 197.2,525.2 197.1,525.7 C197.0,526.2 188.7,526.4 188.6,527.1 C188.5,527.8 196.1,529.1 196.4,529.7 C196.8,530.3 191.8,529.7 190.7,530.7 C189.6,531.7 190.3,533.7 190.0,535.7 C189.7,537.7 189.2,540.8 189.0,542.9 C188.8,545.0 188.5,546.9 188.6,548.6 C188.7,550.3 189.2,550.8 189.3,552.9 C189.4,555.0 189.2,559.0 189.0,561.4 C188.8,563.8 188.3,565.0 188.1,567.1 C187.9,569.2 187.8,572.8 187.9,574.3 C188.0,575.8 188.5,575.7 188.6,576.0" fill="none" stroke="#d80000" stroke-width="1.9" stroke-linejoin="round" stroke-linecap="round"/>
</g>
<rect x="181.5" y="515.5" width="65" height="75" fill="none" stroke="#1a1a1a" stroke-width="1.05"/>
<path d="M181.5,524.8h2.1 M181.5,543.5h2.1 M181.5,562.1h2.1 M181.5,580.7h2.1 M181.5,534.1h1.6 M181.5,552.8h1.6 M181.5,571.4h1.6 M192.3,590.5v-2.0 M203.2,590.5v-2.0 M214.0,590.5v-2.0 M224.8,590.5v-2.0 M235.7,590.5v-2.0" stroke="#1a1a1a" stroke-width="0.9" fill="none"/>
<g font-size="5.9" text-anchor="middle" fill="#000" stroke="#000" stroke-width="0.12" font-family="'Liberation Sans', Arial, sans-serif"><text x="181.5" y="598.2">0</text><text x="192.3" y="598.2">1</text><text x="203.2" y="598.2">2</text><text x="214.0" y="598.2">3</text><text x="224.8" y="598.2">4</text><text x="235.7" y="598.2">5</text><text x="246.5" y="598.2">6</text></g>
<g>
<path d="M266.4,521.1 L268.6,523.1 L265.7,525.0 L271.4,525.7 L279.3,526.4 L289.7,526.9 L265.0,529.3 L270.7,529.7 L269.7,537.9 L266.4,540.0 L271.1,543.1 L265.4,544.0 L266.4,552.1 L271.1,552.9 L267.9,554.6 L269.3,561.7 L267.1,562.6 L264.3,566.0 L267.4,566.4 L267.1,571.7 L262.6,572.1 L265.4,576.0 L268.6,576.0 L265.0,585.0" fill="none" stroke="#3c67a8" stroke-width="0.80" stroke-linejoin="round"/>
<g fill="#1f4480" stroke="#0a1a36" stroke-width="0.68"><circle cx="266.4" cy="521.1" r="1.25"/><circle cx="268.6" cy="523.1" r="1.25"/><circle cx="265.7" cy="525.0" r="1.25"/><circle cx="271.4" cy="525.7" r="1.25"/><circle cx="279.3" cy="526.4" r="1.25"/><circle cx="289.7" cy="526.9" r="1.25"/><circle cx="265.0" cy="529.3" r="1.25"/><circle cx="270.7" cy="529.7" r="1.25"/><circle cx="269.7" cy="537.9" r="1.25"/><circle cx="266.4" cy="540.0" r="1.25"/><circle cx="271.1" cy="543.1" r="1.25"/><circle cx="265.4" cy="544.0" r="1.25"/><circle cx="266.4" cy="552.1" r="1.25"/><circle cx="271.1" cy="552.9" r="1.25"/><circle cx="267.9" cy="554.6" r="1.25"/><circle cx="269.3" cy="561.7" r="1.25"/><circle cx="267.1" cy="562.6" r="1.25"/><circle cx="264.3" cy="566.0" r="1.25"/><circle cx="267.4" cy="566.4" r="1.25"/><circle cx="267.1" cy="571.7" r="1.25"/><circle cx="262.6" cy="572.1" r="1.25"/><circle cx="265.4" cy="576.0" r="1.25"/><circle cx="268.6" cy="576.0" r="1.25"/><circle cx="265.0" cy="585.0" r="1.25"/></g>
<path d="M268.3,522.6 C268.1,522.9 265.2,523.6 267.1,524.3 C269.1,525.0 280.1,526.3 280.0,526.9 C279.9,527.5 268.5,527.4 266.4,527.9 C264.2,528.4 266.7,528.3 267.1,530.0 C267.5,531.7 268.6,536.0 268.6,537.9 C268.6,539.8 267.2,540.2 267.1,541.4 C267.0,542.6 268.0,543.3 267.9,545.0 C267.8,546.7 266.3,550.2 266.4,551.7 C266.5,553.2 268.3,552.7 268.6,554.3 C268.9,555.9 268.8,559.4 268.3,561.4 C267.8,563.4 266.1,564.7 265.7,566.4 C265.3,568.1 265.6,569.8 265.7,571.4 C265.8,573.0 266.3,575.2 266.4,576.0" fill="none" stroke="#d80000" stroke-width="1.9" stroke-linejoin="round" stroke-linecap="round"/>
</g>
<rect x="255.5" y="515.5" width="65" height="75" fill="none" stroke="#1a1a1a" stroke-width="1.05"/>
<path d="M255.5,524.8h2.1 M255.5,543.5h2.1 M255.5,562.1h2.1 M255.5,580.7h2.1 M255.5,534.1h1.6 M255.5,552.8h1.6 M255.5,571.4h1.6 M271.8,590.5v-2.0 M288.0,590.5v-2.0 M304.2,590.5v-2.0" stroke="#1a1a1a" stroke-width="0.9" fill="none"/>
<g font-size="5.9" text-anchor="middle" fill="#000" stroke="#000" stroke-width="0.12" font-family="'Liberation Sans', Arial, sans-serif"><text x="255.5" y="598.2">0</text><text x="271.8" y="598.2">1</text><text x="288.0" y="598.2">2</text><text x="304.2" y="598.2">3</text><text x="320.5" y="598.2">4</text></g>
<g>
<path d="M365.3,523.1 L370.4,524.0 L363.3,524.6 L382.1,525.4 L344.3,526.4 L351.4,526.4 L390.7,527.1 L350.0,528.6 L352.9,529.7 L385.7,530.0 L347.1,530.7 L346.4,532.9 L341.9,538.3 L344.7,539.7 L374.3,540.3 L340.0,542.6 L361.9,543.1 L336.4,552.1 L333.6,554.6 L335.0,564.3 L339.0,565.0 L333.3,566.9 L334.3,568.6 L341.9,572.1 L337.9,572.6 L343.3,575.4 L336.1,576.0 L340.7,585.0" fill="none" stroke="#3c67a8" stroke-width="0.80" stroke-linejoin="round"/>
<g fill="#1f4480" stroke="#0a1a36" stroke-width="0.68"><circle cx="365.3" cy="523.1" r="1.25"/><circle cx="370.4" cy="524.0" r="1.25"/><circle cx="363.3" cy="524.6" r="1.25"/><circle cx="382.1" cy="525.4" r="1.25"/><circle cx="344.3" cy="526.4" r="1.25"/><circle cx="351.4" cy="526.4" r="1.25"/><circle cx="390.7" cy="527.1" r="1.25"/><circle cx="350.0" cy="528.6" r="1.25"/><circle cx="352.9" cy="529.7" r="1.25"/><circle cx="385.7" cy="530.0" r="1.25"/><circle cx="347.1" cy="530.7" r="1.25"/><circle cx="346.4" cy="532.9" r="1.25"/><circle cx="341.9" cy="538.3" r="1.25"/><circle cx="344.7" cy="539.7" r="1.25"/><circle cx="374.3" cy="540.3" r="1.25"/><circle cx="340.0" cy="542.6" r="1.25"/><circle cx="361.9" cy="543.1" r="1.25"/><circle cx="336.4" cy="552.1" r="1.25"/><circle cx="333.6" cy="554.6" r="1.25"/><circle cx="335.0" cy="564.3" r="1.25"/><circle cx="339.0" cy="565.0" r="1.25"/><circle cx="333.3" cy="566.9" r="1.25"/><circle cx="334.3" cy="568.6" r="1.25"/><circle cx="341.9" cy="572.1" r="1.25"/><circle cx="337.9" cy="572.6" r="1.25"/><circle cx="343.3" cy="575.4" r="1.25"/><circle cx="336.1" cy="576.0" r="1.25"/><circle cx="340.7" cy="585.0" r="1.25"/></g>
<path d="M371.4,524.6 C368.7,524.7 359.3,525.1 355.0,525.4 C350.7,525.7 344.0,526.1 345.7,526.4 C347.4,526.6 363.7,526.7 365.0,526.9 C366.3,527.1 353.7,527.2 353.6,527.4 C353.5,527.6 364.3,527.9 364.3,528.3 C364.3,528.7 356.9,529.3 353.6,530.0 C350.3,530.7 346.1,531.3 344.3,532.6 C342.5,533.9 342.8,536.6 342.9,537.9 C343.0,539.2 343.2,539.8 345.0,540.3 C346.8,540.8 351.3,540.3 353.6,540.7 C355.9,541.1 359.7,542.1 358.6,542.6 C357.5,543.1 349.2,542.5 347.1,543.6 C345.0,544.7 347.0,547.8 345.7,549.3 C344.4,550.8 341.0,551.9 339.3,552.9 C337.6,553.9 336.3,553.1 335.7,555.0 C335.1,556.9 336.0,562.2 335.7,564.3 C335.4,566.4 333.9,566.2 333.9,567.4 C333.9,568.6 334.6,570.9 335.7,571.7 C336.8,572.5 339.4,571.5 340.7,572.1 C342.0,572.7 343.8,574.8 343.6,575.4 C343.4,576.0 340.0,575.9 339.3,576.0" fill="none" stroke="#d80000" stroke-width="1.9" stroke-linejoin="round" stroke-linecap="round"/>
</g>
<rect x="330.5" y="515.5" width="65" height="75" fill="none" stroke="#1a1a1a" stroke-width="1.05"/>
<path d="M330.5,524.8h2.1 M330.5,543.5h2.1 M330.5,562.1h2.1 M330.5,580.7h2.1 M330.5,534.1h1.6 M330.5,552.8h1.6 M330.5,571.4h1.6 M352.2,590.5v-2.0 M373.8,590.5v-2.0" stroke="#1a1a1a" stroke-width="0.9" fill="none"/>
<g font-size="5.9" text-anchor="middle" fill="#000" stroke="#000" stroke-width="0.12" font-family="'Liberation Sans', Arial, sans-serif"><text x="330.5" y="598.2">0</text><text x="352.2" y="598.2">1</text><text x="373.8" y="598.2">2</text><text x="395.5" y="598.2">3</text></g>
<g font-size="5.9" text-anchor="end" fill="#000" stroke="#000" stroke-width="0.12" font-family="'Liberation Sans', Arial, sans-serif"><text x="29.2" y="526.7">110</text><text x="29.2" y="545.4">90</text><text x="29.2" y="564.0">70</text><text x="29.2" y="582.6">50</text></g>
<text x="28.5" y="519.5" font-size="5.9" text-anchor="end" fill="#000" stroke="#000" stroke-width="0.12" font-family="'Liberation Sans', Arial, sans-serif">(m)</text>
<circle cx="7.2" cy="639.5" r="6.6" fill="#fff" stroke="#111" stroke-width="0.95"/>
<text x="7.2" y="643.1" font-size="10" text-anchor="middle" font-family="'Liberation Sans', Arial, sans-serif">6</text>
<line x1="31" y1="616.8" x2="398.0" y2="616.8" stroke="#555" stroke-width="0.7" stroke-dasharray="1,1"/>
<text x="397.2" y="618.8" font-size="5.9" font-weight="bold" fill="#2b3350" font-family="'Liberation Sans', Arial, sans-serif">NRB</text>
<g>
<path d="M61.6,609.6 L60.7,611.1 L58.9,612.9 L55.7,613.8 L56.8,614.6 L47.3,615.5 L54.5,616.1 L53.6,617.3 L58.9,617.3 L45.5,617.9 L44.6,618.6 L46.4,620.0 L49.1,621.4 L58.0,621.8 L52.7,632.1 L61.1,633.4 L66.4,633.4 L81.8,637.9 L62.1,637.9 L55.7,643.2 L55.9,644.0 L59.8,646.8 L55.4,665.5" fill="none" stroke="#222222" stroke-width="0.60" stroke-linejoin="round"/>
<g fill="#111111" stroke="#000000" stroke-width="0.50"><circle cx="61.6" cy="609.6" r="1.30"/><circle cx="60.7" cy="611.1" r="1.30"/><circle cx="58.9" cy="612.9" r="1.30"/><circle cx="55.7" cy="613.8" r="1.30"/><circle cx="56.8" cy="614.6" r="1.30"/><circle cx="47.3" cy="615.5" r="1.30"/><circle cx="54.5" cy="616.1" r="1.30"/><circle cx="53.6" cy="617.3" r="1.30"/><circle cx="58.9" cy="617.3" r="1.30"/><circle cx="45.5" cy="617.9" r="1.30"/><circle cx="44.6" cy="618.6" r="1.30"/><circle cx="46.4" cy="620.0" r="1.30"/><circle cx="49.1" cy="621.4" r="1.30"/><circle cx="58.0" cy="621.8" r="1.30"/><circle cx="52.7" cy="632.1" r="1.30"/><circle cx="61.1" cy="633.4" r="1.30"/><circle cx="66.4" cy="633.4" r="1.30"/><circle cx="81.8" cy="637.9" r="1.30"/><circle cx="62.1" cy="637.9" r="1.30"/><circle cx="55.7" cy="643.2" r="1.30"/><circle cx="55.9" cy="644.0" r="1.30"/><circle cx="59.8" cy="646.8" r="1.30"/><circle cx="55.4" cy="665.5" r="1.30"/></g>
</g>
<rect x="31.5" y="602.5" width="65" height="75" fill="none" stroke="#1a1a1a" stroke-width="1.05"/>
<path d="M31.5,614.9h2.1 M31.5,627.3h2.1 M31.5,639.7h2.1 M31.5,652.2h2.1 M31.5,664.6h2.1 M31.5,677.0h2.1 M42.3,677.5v-2.0 M53.2,677.5v-2.0 M64.0,677.5v-2.0 M74.8,677.5v-2.0 M85.7,677.5v-2.0" stroke="#1a1a1a" stroke-width="0.9" fill="none"/>
<g font-size="5.9" text-anchor="middle" fill="#000" stroke="#000" stroke-width="0.12" font-family="'Liberation Sans', Arial, sans-serif"><text x="30.7" y="685.2">-28</text><text x="41.5" y="685.2">-27</text><text x="52.4" y="685.2">-26</text><text x="63.2" y="685.2">-25</text><text x="74.0" y="685.2">-24</text><text x="84.9" y="685.2">-23</text><text x="95.7" y="685.2">-22</text></g>
<g>
<path d="M117.1,610.1 L120.7,610.6 L117.4,612.7 L125.4,613.0 L117.9,614.9 L116.9,616.7 L132.6,620.1 L117.1,621.0 L120.7,622.0 L135.7,632.0 L119.3,633.9 L122.9,633.9 L140.3,638.1 L115.4,638.4 L148.9,643.0 L120.0,643.9 L118.9,646.3 L117.9,659.9 L120.7,665.6 L118.9,675.6" fill="none" stroke="#222222" stroke-width="0.60" stroke-linejoin="round"/>
<g fill="#111111" stroke="#000000" stroke-width="0.50"><circle cx="117.1" cy="610.1" r="1.30"/><circle cx="120.7" cy="610.6" r="1.30"/><circle cx="117.4" cy="612.7" r="1.30"/><circle cx="125.4" cy="613.0" r="1.30"/><circle cx="117.9" cy="614.9" r="1.30"/><circle cx="116.9" cy="616.7" r="1.30"/><circle cx="132.6" cy="620.1" r="1.30"/><circle cx="117.1" cy="621.0" r="1.30"/><circle cx="120.7" cy="622.0" r="1.30"/><circle cx="135.7" cy="632.0" r="1.30"/><circle cx="119.3" cy="633.9" r="1.30"/><circle cx="122.9" cy="633.9" r="1.30"/><circle cx="140.3" cy="638.1" r="1.30"/><circle cx="115.4" cy="638.4" r="1.30"/><circle cx="148.9" cy="643.0" r="1.30"/><circle cx="120.0" cy="643.9" r="1.30"/><circle cx="118.9" cy="646.3" r="1.30"/><circle cx="117.9" cy="659.9" r="1.30"/><circle cx="120.7" cy="665.6" r="1.30"/><circle cx="118.9" cy="675.6" r="1.30"/></g>
<path d="M120.0,611.3 C120.2,611.4 121.5,611.6 121.4,612.0 C121.3,612.4 119.3,613.0 119.3,613.4 C119.3,613.8 121.6,613.7 121.4,614.1 C121.2,614.5 118.2,614.9 117.9,615.6 C117.6,616.3 118.2,617.6 119.3,618.4 C120.4,619.1 123.2,618.9 124.3,620.1 C125.4,621.3 125.3,623.4 125.7,625.6 C126.1,627.8 126.2,631.9 126.4,633.4 C126.6,634.9 127.1,634.2 127.1,634.9 C127.1,635.5 125.1,636.7 126.4,637.3 C127.7,637.9 134.6,638.0 135.0,638.7 C135.4,639.4 129.4,640.5 128.6,641.3 C127.8,642.1 131.3,642.6 130.0,643.4 C128.7,644.2 122.6,645.5 120.7,646.3 C118.8,647.1 118.8,646.4 118.6,648.4 C118.4,650.4 119.1,655.5 119.3,658.4 C119.5,661.3 119.9,664.4 120.0,665.6" fill="none" stroke="#d80000" stroke-width="1.5" stroke-linejoin="round" stroke-linecap="round"/>
</g>
<rect x="105.5" y="602.5" width="67" height="75" fill="none" stroke="#1a1a1a" stroke-width="1.05"/>
<path d="M105.5,614.9h2.1 M105.5,627.3h2.1 M105.5,639.7h2.1 M105.5,652.2h2.1 M105.5,664.6h2.1 M105.5,677.0h2.1 M127.8,677.5v-2.0 M150.2,677.5v-2.0" stroke="#1a1a1a" stroke-width="0.9" fill="none"/>
<g font-size="5.9" text-anchor="middle" fill="#000" stroke="#000" stroke-width="0.12" font-family="'Liberation Sans', Arial, sans-serif"><text x="105.5" y="685.2">0</text><text x="127.8" y="685.2">1</text><text x="150.2" y="685.2">2</text><text x="172.5" y="685.2">3</text></g>
<g>
<path d="M187.6,609.6 L187.1,611.3 L188.1,613.4 L186.7,615.6 L189.0,617.0 L186.4,619.9 L187.1,632.4 L189.3,637.7 L185.7,643.0 L187.6,646.7 L187.9,659.9 L187.1,665.3 L188.1,674.9" fill="none" stroke="#222222" stroke-width="0.60" stroke-linejoin="round"/>
<g fill="#111111" stroke="#000000" stroke-width="0.50"><circle cx="187.6" cy="609.6" r="1.30"/><circle cx="187.1" cy="611.3" r="1.30"/><circle cx="188.1" cy="613.4" r="1.30"/><circle cx="186.7" cy="615.6" r="1.30"/><circle cx="189.0" cy="617.0" r="1.30"/><circle cx="186.4" cy="619.9" r="1.30"/><circle cx="187.1" cy="632.4" r="1.30"/><circle cx="189.3" cy="637.7" r="1.30"/><circle cx="185.7" cy="643.0" r="1.30"/><circle cx="187.6" cy="646.7" r="1.30"/><circle cx="187.9" cy="659.9" r="1.30"/><circle cx="187.1" cy="665.3" r="1.30"/><circle cx="188.1" cy="674.9" r="1.30"/></g>
<path d="M187.6,610.1 C187.7,611.2 188.0,614.4 187.9,617.0 C187.8,619.6 187.2,623.0 187.1,625.6 C187.0,628.2 187.3,630.8 187.6,632.7 C187.9,634.6 189.2,635.3 189.0,637.0 C188.8,638.7 186.9,640.3 186.7,642.7 C186.5,645.1 187.4,647.5 187.6,651.3 C187.8,655.1 187.6,663.0 187.6,665.3" fill="none" stroke="#d80000" stroke-width="1.5" stroke-linejoin="round" stroke-linecap="round"/>
</g>
<rect x="181.5" y="602.5" width="65" height="75" fill="none" stroke="#1a1a1a" stroke-width="1.05"/>
<path d="M181.5,614.9h2.1 M181.5,627.3h2.1 M181.5,639.7h2.1 M181.5,652.2h2.1 M181.5,664.6h2.1 M181.5,677.0h2.1 M192.3,677.5v-2.0 M203.2,677.5v-2.0 M214.0,677.5v-2.0 M224.8,677.5v-2.0 M235.7,677.5v-2.0" stroke="#1a1a1a" stroke-width="0.9" fill="none"/>
<g font-size="5.9" text-anchor="middle" fill="#000" stroke="#000" stroke-width="0.12" font-family="'Liberation Sans', Arial, sans-serif"><text x="181.5" y="685.2">0</text><text x="192.3" y="685.2">1</text><text x="203.2" y="685.2">2</text><text x="214.0" y="685.2">3</text><text x="224.8" y="685.2">4</text><text x="235.7" y="685.2">5</text><text x="246.5" y="685.2">6</text></g>
<g>
<path d="M268.3,609.6 L266.4,611.0 L267.1,613.4 L267.9,616.3 L265.4,619.9 L267.1,632.7 L267.9,637.3 L265.0,637.7 L266.4,642.7 L265.0,646.7 L267.1,659.9 L267.1,665.3 L266.4,674.9" fill="none" stroke="#222222" stroke-width="0.60" stroke-linejoin="round"/>
<g fill="#111111" stroke="#000000" stroke-width="0.50"><circle cx="268.3" cy="609.6" r="1.30"/><circle cx="266.4" cy="611.0" r="1.30"/><circle cx="267.1" cy="613.4" r="1.30"/><circle cx="267.9" cy="616.3" r="1.30"/><circle cx="265.4" cy="619.9" r="1.30"/><circle cx="267.1" cy="632.7" r="1.30"/><circle cx="267.9" cy="637.3" r="1.30"/><circle cx="265.0" cy="637.7" r="1.30"/><circle cx="266.4" cy="642.7" r="1.30"/><circle cx="265.0" cy="646.7" r="1.30"/><circle cx="267.1" cy="659.9" r="1.30"/><circle cx="267.1" cy="665.3" r="1.30"/><circle cx="266.4" cy="674.9" r="1.30"/></g>
<path d="M266.9,610.1 C267.0,611.7 267.4,616.1 267.4,619.9 C267.4,623.7 267.1,628.9 266.9,632.7 C266.7,636.5 266.4,637.3 266.4,642.7 C266.4,648.1 266.8,661.5 266.9,665.3" fill="none" stroke="#d80000" stroke-width="1.5" stroke-linejoin="round" stroke-linecap="round"/>
</g>
<rect x="255.5" y="602.5" width="65" height="75" fill="none" stroke="#1a1a1a" stroke-width="1.05"/>
<path d="M255.5,614.9h2.1 M255.5,627.3h2.1 M255.5,639.7h2.1 M255.5,652.2h2.1 M255.5,664.6h2.1 M255.5,677.0h2.1 M271.8,677.5v-2.0 M288.0,677.5v-2.0 M304.2,677.5v-2.0" stroke="#1a1a1a" stroke-width="0.9" fill="none"/>
<g font-size="5.9" text-anchor="middle" fill="#000" stroke="#000" stroke-width="0.12" font-family="'Liberation Sans', Arial, sans-serif"><text x="255.5" y="685.2">0</text><text x="271.8" y="685.2">1</text><text x="288.0" y="685.2">2</text><text x="304.2" y="685.2">3</text><text x="320.5" y="685.2">4</text></g>
<g>
<path d="M341.4,609.9 L341.7,612.2 L340.9,614.5 L341.7,616.7 L342.0,619.8 L341.4,632.7 L346.3,637.7 L342.9,638.3 L341.4,644.1 L343.5,646.8 L341.4,660.8 L342.5,665.6 L345.0,675.2" fill="none" stroke="#222222" stroke-width="0.60" stroke-linejoin="round"/>
<g fill="#111111" stroke="#000000" stroke-width="0.50"><circle cx="341.4" cy="609.9" r="1.30"/><circle cx="341.7" cy="612.2" r="1.30"/><circle cx="340.9" cy="614.5" r="1.30"/><circle cx="341.7" cy="616.7" r="1.30"/><circle cx="342.0" cy="619.8" r="1.30"/><circle cx="341.4" cy="632.7" r="1.30"/><circle cx="346.3" cy="637.7" r="1.30"/><circle cx="342.9" cy="638.3" r="1.30"/><circle cx="341.4" cy="644.1" r="1.30"/><circle cx="343.5" cy="646.8" r="1.30"/><circle cx="341.4" cy="660.8" r="1.30"/><circle cx="342.5" cy="665.6" r="1.30"/><circle cx="345.0" cy="675.2" r="1.30"/></g>
<path d="M341.4,610.4 C341.4,612.0 341.6,616.1 341.7,619.8 C341.8,623.5 341.6,630.3 342.0,632.7 C342.4,635.1 344.2,633.1 344.4,634.2 C344.5,635.3 343.1,637.6 342.9,639.2 C342.6,640.9 342.8,639.7 342.9,644.1 C342.9,648.5 343.1,662.0 343.2,665.6" fill="none" stroke="#d80000" stroke-width="1.5" stroke-linejoin="round" stroke-linecap="round"/>
</g>
<rect x="330.5" y="602.5" width="65" height="75" fill="none" stroke="#1a1a1a" stroke-width="1.05"/>
<path d="M330.5,614.9h2.1 M330.5,627.3h2.1 M330.5,639.7h2.1 M330.5,652.2h2.1 M330.5,664.6h2.1 M330.5,677.0h2.1 M346.8,677.5v-2.0 M363.0,677.5v-2.0 M379.2,677.5v-2.0" stroke="#1a1a1a" stroke-width="0.9" fill="none"/>
<g font-size="5.9" text-anchor="middle" fill="#000" stroke="#000" stroke-width="0.12" font-family="'Liberation Sans', Arial, sans-serif"><text x="330.5" y="685.2">0</text><text x="346.8" y="685.2">1</text><text x="363.0" y="685.2">2</text><text x="379.2" y="685.2">3</text><text x="395.5" y="685.2">4</text></g>
<g font-size="5.9" text-anchor="end" fill="#000" stroke="#000" stroke-width="0.12" font-family="'Liberation Sans', Arial, sans-serif"><text x="29.2" y="616.8">5</text><text x="29.2" y="629.2">4</text><text x="29.2" y="641.6">3</text><text x="29.2" y="654.1">2</text><text x="29.2" y="666.5">1</text><text x="29.2" y="678.9">0</text></g>
<text x="28.5" y="606.5" font-size="5.9" text-anchor="end" fill="#000" stroke="#000" stroke-width="0.12" font-family="'Liberation Sans', Arial, sans-serif">(m)</text>
</g>
</svg></body></html>
